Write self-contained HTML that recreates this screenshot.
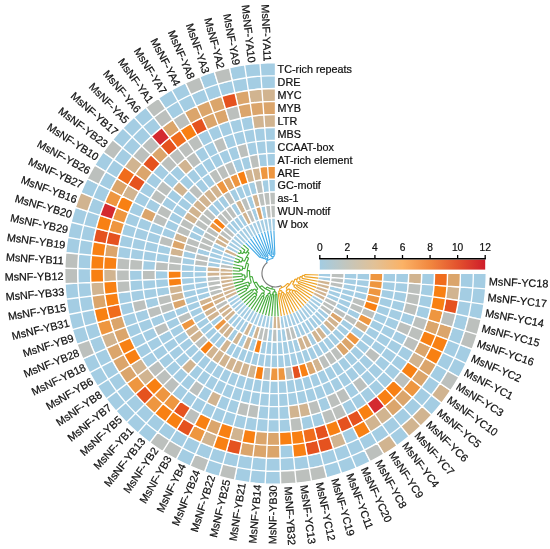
<!DOCTYPE html><html><head><meta charset="utf-8"><style>html,body{margin:0;padding:0;background:#fff;}svg{display:block}</style></head><body>
<svg width="550" height="549" viewBox="0 0 550 549">
<rect width="550" height="549" fill="#fff"/>
<g stroke="#fff" stroke-width="1.35" stroke-linejoin="miter">
<path fill="#a4cde3" d="M275.50 62.65A210.75 210.75 0 0 0 260.00 63.22L260.95 76.11A197.82 197.82 0 0 1 275.50 75.58ZM275.50 75.58A197.82 197.82 0 0 0 260.95 76.11L261.90 89.00A184.90 184.90 0 0 1 275.50 88.50ZM275.50 127.28A146.12 146.12 0 0 0 264.75 127.68L265.70 140.57A133.19 133.19 0 0 1 275.50 140.21ZM275.50 140.21A133.19 133.19 0 0 0 265.70 140.57L266.65 153.46A120.26 120.26 0 0 1 275.50 153.14ZM275.50 153.14A120.26 120.26 0 0 0 266.65 153.46L267.60 166.36A107.33 107.33 0 0 1 275.50 166.07ZM275.50 178.99A94.41 94.41 0 0 0 268.55 179.25L269.51 192.14A81.48 81.48 0 0 1 275.50 191.92ZM275.50 217.77A55.63 55.63 0 0 0 271.41 217.92L272.36 230.82A42.70 42.70 0 0 1 275.50 230.70ZM260.00 63.22A210.75 210.75 0 0 0 244.58 64.93L246.47 77.72A197.82 197.82 0 0 1 260.95 76.11ZM260.95 76.11A197.82 197.82 0 0 0 246.47 77.72L248.37 90.51A184.90 184.90 0 0 1 261.90 89.00ZM264.75 127.68A146.12 146.12 0 0 0 254.06 128.87L255.96 141.65A133.19 133.19 0 0 1 265.70 140.57ZM265.70 140.57A133.19 133.19 0 0 0 255.96 141.65L257.85 154.44A120.26 120.26 0 0 1 266.65 153.46ZM266.65 153.46A120.26 120.26 0 0 0 257.85 154.44L259.75 167.23A107.33 107.33 0 0 1 267.60 166.36ZM268.55 179.25A94.41 94.41 0 0 0 261.65 180.01L263.54 192.80A81.48 81.48 0 0 1 269.51 192.14ZM271.41 217.92A55.63 55.63 0 0 0 267.34 218.38L269.23 231.16A42.70 42.70 0 0 1 272.36 230.82ZM244.58 64.93A210.75 210.75 0 0 0 229.32 67.77L232.16 80.38A197.82 197.82 0 0 1 246.47 77.72ZM246.47 77.72A197.82 197.82 0 0 0 232.16 80.38L234.99 93.00A184.90 184.90 0 0 1 248.37 90.51ZM252.16 116.08A159.04 159.04 0 0 0 240.65 118.22L243.49 130.83A146.12 146.12 0 0 1 254.06 128.87ZM254.06 128.87A146.12 146.12 0 0 0 243.49 130.83L246.32 143.45A133.19 133.19 0 0 1 255.96 141.65ZM255.96 141.65A133.19 133.19 0 0 0 246.32 143.45L249.15 156.06A120.26 120.26 0 0 1 257.85 154.44ZM265.44 205.59A68.55 68.55 0 0 0 260.48 206.51L263.31 219.12A55.63 55.63 0 0 1 267.34 218.38ZM267.34 218.38A55.63 55.63 0 0 0 263.31 219.12L266.14 231.74A42.70 42.70 0 0 1 269.23 231.16ZM232.16 80.38A197.82 197.82 0 0 0 218.07 84.10L221.83 96.47A184.90 184.90 0 0 1 234.99 93.00ZM240.65 118.22A159.04 159.04 0 0 0 229.33 121.21L233.08 133.58A146.12 146.12 0 0 1 243.49 130.83ZM243.49 130.83A146.12 146.12 0 0 0 233.08 133.58L236.84 145.95A133.19 133.19 0 0 1 246.32 143.45ZM249.15 156.06A120.26 120.26 0 0 0 240.59 158.32L244.34 170.69A107.33 107.33 0 0 1 251.98 168.67ZM254.82 181.29A94.41 94.41 0 0 0 248.09 183.06L251.85 195.43A81.48 81.48 0 0 1 257.65 193.90ZM263.31 219.12A55.63 55.63 0 0 0 259.35 220.17L263.10 232.54A42.70 42.70 0 0 1 266.14 231.74ZM214.32 71.72A210.75 210.75 0 0 0 199.65 76.77L204.30 88.83A197.82 197.82 0 0 1 218.07 84.10ZM218.07 84.10A197.82 197.82 0 0 0 204.30 88.83L208.96 100.89A184.90 184.90 0 0 1 221.83 96.47ZM229.33 121.21A159.04 159.04 0 0 0 218.26 125.01L222.91 137.08A146.12 146.12 0 0 1 233.08 133.58ZM233.08 133.58A146.12 146.12 0 0 0 222.91 137.08L227.57 149.14A133.19 133.19 0 0 1 236.84 145.95ZM236.84 145.95A133.19 133.19 0 0 0 227.57 149.14L232.22 161.20A120.26 120.26 0 0 1 240.59 158.32ZM240.59 158.32A120.26 120.26 0 0 0 232.22 161.20L236.87 173.26A107.33 107.33 0 0 1 244.34 170.69ZM248.09 183.06A94.41 94.41 0 0 0 241.52 185.32L246.18 197.38A81.48 81.48 0 0 1 251.85 195.43ZM251.85 195.43A81.48 81.48 0 0 0 246.18 197.38L250.83 209.44A68.55 68.55 0 0 1 255.60 207.80ZM255.60 207.80A68.55 68.55 0 0 0 250.83 209.44L255.48 221.50A55.63 55.63 0 0 1 259.35 220.17ZM259.35 220.17A55.63 55.63 0 0 0 255.48 221.50L260.13 233.56A42.70 42.70 0 0 1 263.10 232.54ZM204.30 88.83A197.82 197.82 0 0 0 190.92 94.57L196.45 106.26A184.90 184.90 0 0 1 208.96 100.89ZM218.26 125.01A159.04 159.04 0 0 0 207.50 129.63L213.03 141.31A146.12 146.12 0 0 1 222.91 137.08ZM227.57 149.14A133.19 133.19 0 0 0 218.55 153.00L224.08 164.68A120.26 120.26 0 0 1 232.22 161.20ZM241.52 185.32A94.41 94.41 0 0 0 235.14 188.06L240.66 199.74A81.48 81.48 0 0 1 246.18 197.38ZM255.48 221.50A55.63 55.63 0 0 0 251.72 223.11L257.24 234.80A42.70 42.70 0 0 1 260.13 233.56ZM185.39 82.88A210.75 210.75 0 0 0 171.62 90.03L177.99 101.28A197.82 197.82 0 0 1 190.92 94.57ZM190.92 94.57A197.82 197.82 0 0 0 177.99 101.28L184.37 112.52A184.90 184.90 0 0 1 196.45 106.26ZM207.50 129.63A159.04 159.04 0 0 0 197.11 135.02L203.48 146.27A146.12 146.12 0 0 1 213.03 141.31ZM213.03 141.31A146.12 146.12 0 0 0 203.48 146.27L209.85 157.51A133.19 133.19 0 0 1 218.55 153.00ZM218.55 153.00A133.19 133.19 0 0 0 209.85 157.51L216.22 168.76A120.26 120.26 0 0 1 224.08 164.68ZM235.14 188.06A94.41 94.41 0 0 0 228.97 191.26L235.34 202.50A81.48 81.48 0 0 1 240.66 199.74ZM251.72 223.11A55.63 55.63 0 0 0 248.08 225.00L254.45 236.25A42.70 42.70 0 0 1 257.24 234.80ZM171.62 90.03A210.75 210.75 0 0 0 158.41 98.17L165.60 108.92A197.82 197.82 0 0 1 177.99 101.28ZM177.99 101.28A197.82 197.82 0 0 0 165.60 108.92L172.78 119.66A184.90 184.90 0 0 1 184.37 112.52ZM203.48 146.27A146.12 146.12 0 0 0 194.32 151.91L201.50 162.66A133.19 133.19 0 0 1 209.85 157.51ZM209.85 157.51A133.19 133.19 0 0 0 201.50 162.66L208.69 173.41A120.26 120.26 0 0 1 216.22 168.76ZM235.34 202.50A81.48 81.48 0 0 0 230.23 205.65L237.41 216.40A68.55 68.55 0 0 1 241.71 213.75ZM241.71 213.75A68.55 68.55 0 0 0 237.41 216.40L244.60 227.15A55.63 55.63 0 0 1 248.08 225.00ZM248.08 225.00A55.63 55.63 0 0 0 244.60 227.15L251.78 237.90A42.70 42.70 0 0 1 254.45 236.25ZM201.50 162.66A133.19 133.19 0 0 0 193.56 168.40L201.51 178.59A120.26 120.26 0 0 1 208.69 173.41ZM208.69 173.41A120.26 120.26 0 0 0 201.51 178.59L209.46 188.78A107.33 107.33 0 0 1 215.87 184.15ZM223.05 194.90A94.41 94.41 0 0 0 217.42 198.97L225.37 209.16A81.48 81.48 0 0 1 230.23 205.65ZM237.41 216.40A68.55 68.55 0 0 0 233.32 219.36L241.28 229.55A55.63 55.63 0 0 1 244.60 227.15ZM244.60 227.15A55.63 55.63 0 0 0 241.28 229.55L249.23 239.74A42.70 42.70 0 0 1 251.78 237.90ZM145.84 107.26A210.75 210.75 0 0 0 133.97 117.24L142.65 126.82A197.82 197.82 0 0 1 153.79 117.45ZM153.79 117.45A197.82 197.82 0 0 0 142.65 126.82L151.33 136.40A184.90 184.90 0 0 1 161.75 127.64ZM193.56 168.40A133.19 133.19 0 0 0 186.06 174.71L194.74 184.29A120.26 120.26 0 0 1 201.51 178.59ZM201.51 178.59A120.26 120.26 0 0 0 194.74 184.29L203.42 193.87A107.33 107.33 0 0 1 209.46 188.78ZM217.42 198.97A94.41 94.41 0 0 0 212.10 203.45L220.78 213.03A81.48 81.48 0 0 1 225.37 209.16ZM233.32 219.36A68.55 68.55 0 0 0 229.46 222.60L238.14 232.18A55.63 55.63 0 0 1 241.28 229.55ZM241.28 229.55A55.63 55.63 0 0 0 238.14 232.18L246.82 241.76A42.70 42.70 0 0 1 249.23 239.74ZM133.97 117.24A210.75 210.75 0 0 0 122.86 128.08L132.23 136.99A197.82 197.82 0 0 1 142.65 126.82ZM142.65 126.82A197.82 197.82 0 0 0 132.23 136.99L141.59 145.91A184.90 184.90 0 0 1 151.33 136.40ZM177.37 165.14A146.12 146.12 0 0 0 169.68 172.65L179.04 181.56A133.19 133.19 0 0 1 186.06 174.71ZM186.06 174.71A133.19 133.19 0 0 0 179.04 181.56L188.40 190.47A120.26 120.26 0 0 1 194.74 184.29ZM212.10 203.45A94.41 94.41 0 0 0 207.13 208.30L216.49 217.22A81.48 81.48 0 0 1 220.78 213.03ZM229.46 222.60A68.55 68.55 0 0 0 225.85 226.13L235.21 235.04A55.63 55.63 0 0 1 238.14 232.18ZM238.14 232.18A55.63 55.63 0 0 0 235.21 235.04L244.57 243.96A42.70 42.70 0 0 1 246.82 241.76ZM122.86 128.08A210.75 210.75 0 0 0 112.59 139.70L122.58 147.90A197.82 197.82 0 0 1 132.23 136.99ZM132.23 136.99A197.82 197.82 0 0 0 122.58 147.90L132.57 156.10A184.90 184.90 0 0 1 141.59 145.91ZM160.31 163.73A159.04 159.04 0 0 0 152.56 172.50L162.55 180.71A146.12 146.12 0 0 1 169.68 172.65ZM169.68 172.65A146.12 146.12 0 0 0 162.55 180.71L172.54 188.91A133.19 133.19 0 0 1 179.04 181.56ZM188.40 190.47A120.26 120.26 0 0 0 182.54 197.11L192.53 205.31A107.33 107.33 0 0 1 197.76 199.39ZM235.21 235.04A55.63 55.63 0 0 0 232.50 238.11L242.49 246.31A42.70 42.70 0 0 1 244.57 243.96ZM122.58 147.90A197.82 197.82 0 0 0 113.76 159.49L124.33 166.94A184.90 184.90 0 0 1 132.57 156.10ZM152.56 172.50A159.04 159.04 0 0 0 145.47 181.82L156.04 189.27A146.12 146.12 0 0 1 162.55 180.71ZM172.54 188.91A133.19 133.19 0 0 0 166.61 196.71L177.18 204.15A120.26 120.26 0 0 1 182.54 197.11ZM182.54 197.11A120.26 120.26 0 0 0 177.18 204.15L187.74 211.60A107.33 107.33 0 0 1 192.53 205.31ZM232.50 238.11A55.63 55.63 0 0 0 230.02 241.37L240.59 248.81A42.70 42.70 0 0 1 242.49 246.31ZM103.19 152.05A210.75 210.75 0 0 0 94.73 165.05L105.82 171.70A197.82 197.82 0 0 1 113.76 159.49ZM113.76 159.49A197.82 197.82 0 0 0 105.82 171.70L116.91 178.34A184.90 184.90 0 0 1 124.33 166.94ZM145.47 181.82A159.04 159.04 0 0 0 139.08 191.64L150.17 198.28A146.12 146.12 0 0 1 156.04 189.27ZM166.61 196.71A133.19 133.19 0 0 0 161.26 204.93L172.35 211.57A120.26 120.26 0 0 1 177.18 204.15ZM177.18 204.15A120.26 120.26 0 0 0 172.35 211.57L183.44 218.22A107.33 107.33 0 0 1 187.74 211.60ZM230.02 241.37A55.63 55.63 0 0 0 227.79 244.80L238.87 251.45A42.70 42.70 0 0 1 240.59 248.81ZM105.82 171.70A197.82 197.82 0 0 0 98.80 184.46L110.35 190.27A184.90 184.90 0 0 1 116.91 178.34ZM139.08 191.64A159.04 159.04 0 0 0 133.44 201.89L144.99 207.70A146.12 146.12 0 0 1 150.17 198.28ZM150.17 198.28A146.12 146.12 0 0 0 144.99 207.70L156.53 213.52A133.19 133.19 0 0 1 161.26 204.93ZM172.35 211.57A120.26 120.26 0 0 0 168.08 219.33L179.63 225.14A107.33 107.33 0 0 1 183.44 218.22ZM194.52 224.86A94.41 94.41 0 0 0 191.17 230.95L202.72 236.77A81.48 81.48 0 0 1 205.61 231.51ZM227.79 244.80A55.63 55.63 0 0 0 225.81 248.39L237.36 254.20A42.70 42.70 0 0 1 238.87 251.45ZM87.25 178.64A210.75 210.75 0 0 0 80.79 192.75L92.74 197.70A197.82 197.82 0 0 1 98.80 184.46ZM98.80 184.46A197.82 197.82 0 0 0 92.74 197.70L104.68 202.64A184.90 184.90 0 0 1 110.35 190.27ZM133.44 201.89A159.04 159.04 0 0 0 128.56 212.54L140.51 217.48A146.12 146.12 0 0 1 144.99 207.70ZM168.08 219.33A120.26 120.26 0 0 0 164.39 227.38L176.34 232.32A107.33 107.33 0 0 1 179.63 225.14ZM191.17 230.95A94.41 94.41 0 0 0 188.28 237.27L200.22 242.22A81.48 81.48 0 0 1 202.72 236.77ZM214.27 242.58A68.55 68.55 0 0 0 212.16 247.17L224.11 252.11A55.63 55.63 0 0 1 225.81 248.39ZM92.74 197.70A197.82 197.82 0 0 0 87.66 211.35L99.94 215.40A184.90 184.90 0 0 1 104.68 202.64ZM128.56 212.54A159.04 159.04 0 0 0 124.48 223.51L136.76 227.57A146.12 146.12 0 0 1 140.51 217.48ZM140.51 217.48A146.12 146.12 0 0 0 136.76 227.57L149.03 231.62A133.19 133.19 0 0 1 152.45 222.43ZM152.45 222.43A133.19 133.19 0 0 0 149.03 231.62L161.31 235.68A120.26 120.26 0 0 1 164.39 227.38ZM164.39 227.38A120.26 120.26 0 0 0 161.31 235.68L173.58 239.73A107.33 107.33 0 0 1 176.34 232.32ZM212.16 247.17A68.55 68.55 0 0 0 210.41 251.90L222.68 255.95A55.63 55.63 0 0 1 224.11 252.11ZM224.11 252.11A55.63 55.63 0 0 0 222.68 255.95L234.96 260.01A42.70 42.70 0 0 1 236.05 257.06ZM75.39 207.29A210.75 210.75 0 0 0 71.07 222.19L83.61 225.33A197.82 197.82 0 0 1 87.66 211.35ZM87.66 211.35A197.82 197.82 0 0 0 83.61 225.33L96.14 228.47A184.90 184.90 0 0 1 99.94 215.40ZM124.48 223.51A159.04 159.04 0 0 0 121.22 234.76L133.76 237.90A146.12 146.12 0 0 1 136.76 227.57ZM136.76 227.57A146.12 146.12 0 0 0 133.76 237.90L146.30 241.04A133.19 133.19 0 0 1 149.03 231.62ZM149.03 231.62A133.19 133.19 0 0 0 146.30 241.04L158.84 244.18A120.26 120.26 0 0 1 161.31 235.68ZM198.13 247.84A81.48 81.48 0 0 0 196.46 253.60L209.00 256.74A68.55 68.55 0 0 1 210.41 251.90ZM210.41 251.90A68.55 68.55 0 0 0 209.00 256.74L221.54 259.88A55.63 55.63 0 0 1 222.68 255.95ZM222.68 255.95A55.63 55.63 0 0 0 221.54 259.88L234.08 263.02A42.70 42.70 0 0 1 234.96 260.01ZM71.07 222.19A210.75 210.75 0 0 0 67.85 237.37L80.59 239.58A197.82 197.82 0 0 1 83.61 225.33ZM83.61 225.33A197.82 197.82 0 0 0 80.59 239.58L93.33 241.79A184.90 184.90 0 0 1 96.14 228.47ZM121.22 234.76A159.04 159.04 0 0 0 118.80 246.21L131.54 248.42A146.12 146.12 0 0 1 133.76 237.90ZM133.76 237.90A146.12 146.12 0 0 0 131.54 248.42L144.27 250.63A133.19 133.19 0 0 1 146.30 241.04ZM146.30 241.04A133.19 133.19 0 0 0 144.27 250.63L157.01 252.84A120.26 120.26 0 0 1 158.84 244.18ZM158.84 244.18A120.26 120.26 0 0 0 157.01 252.84L169.75 255.05A107.33 107.33 0 0 1 171.38 247.32ZM183.92 250.46A94.41 94.41 0 0 0 182.48 257.26L195.22 259.47A81.48 81.48 0 0 1 196.46 253.60ZM209.00 256.74A68.55 68.55 0 0 0 207.96 261.68L220.69 263.89A55.63 55.63 0 0 1 221.54 259.88ZM221.54 259.88A55.63 55.63 0 0 0 220.69 263.89L233.43 266.10A42.70 42.70 0 0 1 234.08 263.02ZM67.85 237.37A210.75 210.75 0 0 0 65.76 252.74L78.63 254.01A197.82 197.82 0 0 1 80.59 239.58ZM80.59 239.58A197.82 197.82 0 0 0 78.63 254.01L91.49 255.28A184.90 184.90 0 0 1 93.33 241.79ZM118.80 246.21A159.04 159.04 0 0 0 117.22 257.81L130.09 259.08A146.12 146.12 0 0 1 131.54 248.42ZM131.54 248.42A146.12 146.12 0 0 0 130.09 259.08L142.95 260.35A133.19 133.19 0 0 1 144.27 250.63ZM144.27 250.63A133.19 133.19 0 0 0 142.95 260.35L155.82 261.61A120.26 120.26 0 0 1 157.01 252.84ZM157.01 252.84A120.26 120.26 0 0 0 155.82 261.61L168.68 262.88A107.33 107.33 0 0 1 169.75 255.05ZM182.48 257.26A94.41 94.41 0 0 0 181.55 264.15L194.41 265.41A81.48 81.48 0 0 1 195.22 259.47ZM207.96 261.68A68.55 68.55 0 0 0 207.28 266.68L220.14 267.95A55.63 55.63 0 0 1 220.69 263.89ZM78.63 254.01A197.82 197.82 0 0 0 77.74 268.55L90.66 268.86A184.90 184.90 0 0 1 91.49 255.28ZM142.95 260.35A133.19 133.19 0 0 0 142.35 270.13L155.27 270.45A120.26 120.26 0 0 1 155.82 261.61ZM181.55 264.15A94.41 94.41 0 0 0 181.12 271.08L194.04 271.40A81.48 81.48 0 0 1 194.41 265.41ZM194.41 265.41A81.48 81.48 0 0 0 194.04 271.40L206.97 271.72A68.55 68.55 0 0 1 207.28 266.68ZM77.74 268.55A197.82 197.82 0 0 0 77.92 283.11L90.83 282.47A184.90 184.90 0 0 1 90.66 268.86ZM129.43 269.81A146.12 146.12 0 0 0 129.56 280.57L142.47 279.94A133.19 133.19 0 0 1 142.35 270.13ZM155.27 270.45A120.26 120.26 0 0 0 155.38 279.30L168.29 278.67A107.33 107.33 0 0 1 168.20 270.77ZM181.12 271.08A94.41 94.41 0 0 0 181.21 278.03L194.12 277.40A81.48 81.48 0 0 1 194.04 271.40ZM194.04 271.40A81.48 81.48 0 0 0 194.12 277.40L207.03 276.76A68.55 68.55 0 0 1 206.97 271.72ZM65.00 283.74A210.75 210.75 0 0 0 66.33 299.20L79.16 297.62A197.82 197.82 0 0 1 77.92 283.11ZM77.92 283.11A197.82 197.82 0 0 0 79.16 297.62L91.99 296.03A184.90 184.90 0 0 1 90.83 282.47ZM129.56 280.57A146.12 146.12 0 0 0 130.48 291.29L143.31 289.70A133.19 133.19 0 0 1 142.47 279.94ZM142.47 279.94A133.19 133.19 0 0 0 143.31 289.70L156.14 288.12A120.26 120.26 0 0 1 155.38 279.30ZM155.38 279.30A120.26 120.26 0 0 0 156.14 288.12L168.97 286.54A107.33 107.33 0 0 1 168.29 278.67ZM181.21 278.03A94.41 94.41 0 0 0 181.80 284.96L194.63 283.37A81.48 81.48 0 0 1 194.12 277.40ZM194.12 277.40A81.48 81.48 0 0 0 194.63 283.37L207.46 281.79A68.55 68.55 0 0 1 207.03 276.76ZM66.33 299.20A210.75 210.75 0 0 0 68.80 314.52L81.48 311.99A197.82 197.82 0 0 1 79.16 297.62ZM79.16 297.62A197.82 197.82 0 0 0 81.48 311.99L94.16 309.47A184.90 184.90 0 0 1 91.99 296.03ZM117.65 292.87A159.04 159.04 0 0 0 119.51 304.43L132.19 301.91A146.12 146.12 0 0 1 130.48 291.29ZM130.48 291.29A146.12 146.12 0 0 0 132.19 301.91L144.87 299.38A133.19 133.19 0 0 1 143.31 289.70ZM143.31 289.70A133.19 133.19 0 0 0 144.87 299.38L157.55 296.86A120.26 120.26 0 0 1 156.14 288.12ZM156.14 288.12A120.26 120.26 0 0 0 157.55 296.86L170.23 294.34A107.33 107.33 0 0 1 168.97 286.54ZM181.80 284.96A94.41 94.41 0 0 0 182.91 291.82L195.58 289.30A81.48 81.48 0 0 1 194.63 283.37ZM194.63 283.37A81.48 81.48 0 0 0 195.58 289.30L208.26 286.77A68.55 68.55 0 0 1 207.46 281.79ZM68.80 314.52A210.75 210.75 0 0 0 72.38 329.61L84.84 326.16A197.82 197.82 0 0 1 81.48 311.99ZM81.48 311.99A197.82 197.82 0 0 0 84.84 326.16L97.30 322.71A184.90 184.90 0 0 1 94.16 309.47ZM119.51 304.43A159.04 159.04 0 0 0 122.22 315.82L134.68 312.37A146.12 146.12 0 0 1 132.19 301.91ZM144.87 299.38A133.19 133.19 0 0 0 147.14 308.92L159.59 305.48A120.26 120.26 0 0 1 157.55 296.86ZM182.91 291.82A94.41 94.41 0 0 0 184.51 298.58L196.97 295.13A81.48 81.48 0 0 1 195.58 289.30ZM195.58 289.30A81.48 81.48 0 0 0 196.97 295.13L209.43 291.68A68.55 68.55 0 0 1 208.26 286.77ZM72.38 329.61A210.75 210.75 0 0 0 77.07 344.40L89.24 340.04A197.82 197.82 0 0 1 84.84 326.16ZM84.84 326.16A197.82 197.82 0 0 0 89.24 340.04L101.41 335.69A184.90 184.90 0 0 1 97.30 322.71ZM122.22 315.82A159.04 159.04 0 0 0 125.75 326.98L137.93 322.62A146.12 146.12 0 0 1 134.68 312.37ZM134.68 312.37A146.12 146.12 0 0 0 137.93 322.62L150.10 318.27A133.19 133.19 0 0 1 147.14 308.92ZM184.51 298.58A94.41 94.41 0 0 0 186.61 305.20L198.78 300.85A81.48 81.48 0 0 1 196.97 295.13ZM196.97 295.13A81.48 81.48 0 0 0 198.78 300.85L210.95 296.50A68.55 68.55 0 0 1 209.43 291.68ZM89.24 340.04A197.82 197.82 0 0 0 94.65 353.57L106.47 348.33A184.90 184.90 0 0 1 101.41 335.69ZM125.75 326.98A159.04 159.04 0 0 0 130.10 337.85L141.92 332.61A146.12 146.12 0 0 1 137.93 322.62ZM137.93 322.62A146.12 146.12 0 0 0 141.92 332.61L153.74 327.37A133.19 133.19 0 0 1 150.10 318.27ZM150.10 318.27A133.19 133.19 0 0 0 153.74 327.37L165.56 322.13A120.26 120.26 0 0 1 162.27 313.91ZM162.27 313.91A120.26 120.26 0 0 0 165.56 322.13L177.37 316.90A107.33 107.33 0 0 1 174.44 309.56ZM174.44 309.56A107.33 107.33 0 0 0 177.37 316.90L189.19 311.66A94.41 94.41 0 0 1 186.61 305.20ZM186.61 305.20A94.41 94.41 0 0 0 189.19 311.66L201.01 306.42A81.48 81.48 0 0 1 198.78 300.85ZM82.83 358.80A210.75 210.75 0 0 0 89.64 372.75L101.04 366.65A197.82 197.82 0 0 1 94.65 353.57ZM94.65 353.57A197.82 197.82 0 0 0 101.04 366.65L112.44 360.56A184.90 184.90 0 0 1 106.47 348.33ZM130.10 337.85A159.04 159.04 0 0 0 135.24 348.37L146.64 342.28A146.12 146.12 0 0 1 141.92 332.61ZM141.92 332.61A146.12 146.12 0 0 0 146.64 342.28L158.04 336.18A133.19 133.19 0 0 1 153.74 327.37ZM165.56 322.13A120.26 120.26 0 0 0 169.44 330.09L180.84 324.00A107.33 107.33 0 0 1 177.37 316.90ZM189.19 311.66A94.41 94.41 0 0 0 192.24 317.90L203.64 311.81A81.48 81.48 0 0 1 201.01 306.42ZM89.64 372.75A210.75 210.75 0 0 0 97.45 386.15L108.37 379.23A197.82 197.82 0 0 1 101.04 366.65ZM101.04 366.65A197.82 197.82 0 0 0 108.37 379.23L119.29 372.32A184.90 184.90 0 0 1 112.44 360.56ZM135.24 348.37A159.04 159.04 0 0 0 141.13 358.49L152.05 351.57A146.12 146.12 0 0 1 146.64 342.28ZM146.64 342.28A146.12 146.12 0 0 0 152.05 351.57L162.98 344.66A133.19 133.19 0 0 1 158.04 336.18ZM158.04 336.18A133.19 133.19 0 0 0 162.98 344.66L173.90 337.74A120.26 120.26 0 0 1 169.44 330.09ZM169.44 330.09A120.26 120.26 0 0 0 173.90 337.74L184.82 330.82A107.33 107.33 0 0 1 180.84 324.00ZM192.24 317.90A94.41 94.41 0 0 0 195.74 323.91L206.66 316.99A81.48 81.48 0 0 1 203.64 311.81ZM226.44 299.62A55.63 55.63 0 0 0 228.50 303.16L239.42 296.24A42.70 42.70 0 0 1 237.84 293.53ZM97.45 386.15A210.75 210.75 0 0 0 106.22 398.94L116.61 391.24A197.82 197.82 0 0 1 108.37 379.23ZM108.37 379.23A197.82 197.82 0 0 0 116.61 391.24L126.99 383.54A184.90 184.90 0 0 1 119.29 372.32ZM141.13 358.49A159.04 159.04 0 0 0 147.76 368.14L158.14 360.44A146.12 146.12 0 0 1 152.05 351.57ZM152.05 351.57A146.12 146.12 0 0 0 158.14 360.44L168.52 352.74A133.19 133.19 0 0 1 162.98 344.66ZM162.98 344.66A133.19 133.19 0 0 0 168.52 352.74L178.91 345.04A120.26 120.26 0 0 1 173.90 337.74ZM173.90 337.74A120.26 120.26 0 0 0 178.91 345.04L189.29 337.34A107.33 107.33 0 0 1 184.82 330.82ZM195.74 323.91A94.41 94.41 0 0 0 199.67 329.64L210.05 321.94A81.48 81.48 0 0 1 206.66 316.99ZM228.50 303.16A55.63 55.63 0 0 0 230.82 306.54L241.20 298.84A42.70 42.70 0 0 1 239.42 296.24ZM106.22 398.94A210.75 210.75 0 0 0 115.92 411.06L125.71 402.61A197.82 197.82 0 0 1 116.61 391.24ZM116.61 391.24A197.82 197.82 0 0 0 125.71 402.61L135.49 394.17A184.90 184.90 0 0 1 126.99 383.54ZM158.14 360.44A146.12 146.12 0 0 0 164.86 368.84L174.65 360.40A133.19 133.19 0 0 1 168.52 352.74ZM168.52 352.74A133.19 133.19 0 0 0 174.65 360.40L184.44 351.95A120.26 120.26 0 0 1 178.91 345.04ZM178.91 345.04A120.26 120.26 0 0 0 184.44 351.95L194.23 343.51A107.33 107.33 0 0 1 189.29 337.34ZM199.67 329.64A94.41 94.41 0 0 0 204.01 335.06L213.80 326.62A81.48 81.48 0 0 1 210.05 321.94ZM210.05 321.94A81.48 81.48 0 0 0 213.80 326.62L223.59 318.18A68.55 68.55 0 0 1 220.44 314.24ZM230.82 306.54A55.63 55.63 0 0 0 233.38 309.73L243.17 301.29A42.70 42.70 0 0 1 241.20 298.84ZM115.92 411.06A210.75 210.75 0 0 0 126.48 422.42L135.62 413.28A197.82 197.82 0 0 1 125.71 402.61ZM125.71 402.61A197.82 197.82 0 0 0 135.62 413.28L144.76 404.14A184.90 184.90 0 0 1 135.49 394.17ZM164.86 368.84A146.12 146.12 0 0 0 172.18 376.72L181.32 367.58A133.19 133.19 0 0 1 174.65 360.40ZM174.65 360.40A133.19 133.19 0 0 0 181.32 367.58L190.46 358.44A120.26 120.26 0 0 1 184.44 351.95ZM184.44 351.95A120.26 120.26 0 0 0 190.46 358.44L199.60 349.30A107.33 107.33 0 0 1 194.23 343.51ZM204.01 335.06A94.41 94.41 0 0 0 208.74 340.16L217.88 331.02A81.48 81.48 0 0 1 213.80 326.62ZM233.38 309.73A55.63 55.63 0 0 0 236.17 312.73L245.31 303.59A42.70 42.70 0 0 1 243.17 301.29ZM126.48 422.42A210.75 210.75 0 0 0 137.84 432.98L146.29 423.19A197.82 197.82 0 0 1 135.62 413.28ZM135.62 413.28A197.82 197.82 0 0 0 146.29 423.19L154.73 413.41A184.90 184.90 0 0 1 144.76 404.14ZM172.18 376.72A146.12 146.12 0 0 0 180.06 384.04L188.50 374.25A133.19 133.19 0 0 1 181.32 367.58ZM190.46 358.44A120.26 120.26 0 0 0 196.95 364.46L205.39 354.67A107.33 107.33 0 0 1 199.60 349.30ZM208.74 340.16A94.41 94.41 0 0 0 213.84 344.89L222.28 335.10A81.48 81.48 0 0 1 217.88 331.02ZM227.03 321.87A68.55 68.55 0 0 0 230.72 325.31L239.17 315.52A55.63 55.63 0 0 1 236.17 312.73ZM236.17 312.73A55.63 55.63 0 0 0 239.17 315.52L247.61 305.73A42.70 42.70 0 0 1 245.31 303.59ZM137.84 432.98A210.75 210.75 0 0 0 149.96 442.68L157.66 432.29A197.82 197.82 0 0 1 146.29 423.19ZM146.29 423.19A197.82 197.82 0 0 0 157.66 432.29L165.36 421.91A184.90 184.90 0 0 1 154.73 413.41ZM171.62 393.83A159.04 159.04 0 0 0 180.76 401.14L188.46 390.76A146.12 146.12 0 0 1 180.06 384.04ZM180.06 384.04A146.12 146.12 0 0 0 188.46 390.76L196.16 380.38A133.19 133.19 0 0 1 188.50 374.25ZM188.50 374.25A133.19 133.19 0 0 0 196.16 380.38L203.86 369.99A120.26 120.26 0 0 1 196.95 364.46ZM196.95 364.46A120.26 120.26 0 0 0 203.86 369.99L211.56 359.61A107.33 107.33 0 0 1 205.39 354.67ZM213.84 344.89A94.41 94.41 0 0 0 219.26 349.23L226.96 338.85A81.48 81.48 0 0 1 222.28 335.10ZM230.72 325.31A68.55 68.55 0 0 0 234.66 328.46L242.36 318.08A55.63 55.63 0 0 1 239.17 315.52ZM239.17 315.52A55.63 55.63 0 0 0 242.36 318.08L250.06 307.70A42.70 42.70 0 0 1 247.61 305.73ZM157.66 432.29A197.82 197.82 0 0 0 169.67 440.53L176.58 429.61A184.90 184.90 0 0 1 165.36 421.91ZM180.76 401.14A159.04 159.04 0 0 0 190.41 407.77L197.33 396.85A146.12 146.12 0 0 1 188.46 390.76ZM196.16 380.38A133.19 133.19 0 0 0 204.24 385.92L211.16 375.00A120.26 120.26 0 0 1 203.86 369.99ZM203.86 369.99A120.26 120.26 0 0 0 211.16 375.00L218.08 364.08A107.33 107.33 0 0 1 211.56 359.61ZM226.96 338.85A81.48 81.48 0 0 0 231.91 342.24L238.82 331.32A68.55 68.55 0 0 1 234.66 328.46ZM234.66 328.46A68.55 68.55 0 0 0 238.82 331.32L245.74 320.40A55.63 55.63 0 0 1 242.36 318.08ZM242.36 318.08A55.63 55.63 0 0 0 245.74 320.40L252.66 309.48A42.70 42.70 0 0 1 250.06 307.70ZM169.67 440.53A197.82 197.82 0 0 0 182.25 447.86L188.34 436.46A184.90 184.90 0 0 1 176.58 429.61ZM190.41 407.77A159.04 159.04 0 0 0 200.53 413.66L206.62 402.26A146.12 146.12 0 0 1 197.33 396.85ZM197.33 396.85A146.12 146.12 0 0 0 206.62 402.26L212.72 390.86A133.19 133.19 0 0 1 204.24 385.92ZM204.24 385.92A133.19 133.19 0 0 0 212.72 390.86L218.81 379.46A120.26 120.26 0 0 1 211.16 375.00ZM211.16 375.00A120.26 120.26 0 0 0 218.81 379.46L224.90 368.06A107.33 107.33 0 0 1 218.08 364.08ZM224.99 353.16A94.41 94.41 0 0 0 231.00 356.66L237.09 345.26A81.48 81.48 0 0 1 231.91 342.24ZM238.82 331.32A68.55 68.55 0 0 0 243.18 333.86L249.28 322.46A55.63 55.63 0 0 1 245.74 320.40ZM245.74 320.40A55.63 55.63 0 0 0 249.28 322.46L255.37 311.06A42.70 42.70 0 0 1 252.66 309.48ZM176.15 459.26A210.75 210.75 0 0 0 190.10 466.07L195.33 454.25A197.82 197.82 0 0 1 182.25 447.86ZM182.25 447.86A197.82 197.82 0 0 0 195.33 454.25L200.57 442.43A184.90 184.90 0 0 1 188.34 436.46ZM200.53 413.66A159.04 159.04 0 0 0 211.05 418.80L216.29 406.98A146.12 146.12 0 0 1 206.62 402.26ZM212.72 390.86A133.19 133.19 0 0 0 221.53 395.16L226.77 383.34A120.26 120.26 0 0 1 218.81 379.46ZM218.81 379.46A120.26 120.26 0 0 0 226.77 383.34L232.00 371.53A107.33 107.33 0 0 1 224.90 368.06ZM231.00 356.66A94.41 94.41 0 0 0 237.24 359.71L242.48 347.89A81.48 81.48 0 0 1 237.09 345.26ZM237.09 345.26A81.48 81.48 0 0 0 242.48 347.89L247.72 336.07A68.55 68.55 0 0 1 243.18 333.86ZM249.28 322.46A55.63 55.63 0 0 0 252.96 324.25L258.20 312.44A42.70 42.70 0 0 1 255.37 311.06ZM195.33 454.25A197.82 197.82 0 0 0 208.86 459.66L213.21 447.49A184.90 184.90 0 0 1 200.57 442.43ZM211.05 418.80A159.04 159.04 0 0 0 221.92 423.15L226.28 410.97A146.12 146.12 0 0 1 216.29 406.98ZM216.29 406.98A146.12 146.12 0 0 0 226.28 410.97L230.63 398.80A133.19 133.19 0 0 1 221.53 395.16ZM221.53 395.16A133.19 133.19 0 0 0 230.63 398.80L234.99 386.63A120.26 120.26 0 0 1 226.77 383.34ZM226.77 383.34A120.26 120.26 0 0 0 234.99 386.63L239.34 374.46A107.33 107.33 0 0 1 232.00 371.53ZM237.24 359.71A94.41 94.41 0 0 0 243.70 362.29L248.05 350.12A81.48 81.48 0 0 1 242.48 347.89ZM247.72 336.07A68.55 68.55 0 0 0 252.40 337.95L256.76 325.78A55.63 55.63 0 0 1 252.96 324.25ZM252.96 324.25A55.63 55.63 0 0 0 256.76 325.78L261.11 313.60A42.70 42.70 0 0 1 258.20 312.44ZM204.50 471.83A210.75 210.75 0 0 0 219.29 476.52L222.74 464.06A197.82 197.82 0 0 1 208.86 459.66ZM208.86 459.66A197.82 197.82 0 0 0 222.74 464.06L226.19 451.60A184.90 184.90 0 0 1 213.21 447.49ZM221.92 423.15A159.04 159.04 0 0 0 233.08 426.68L236.53 414.22A146.12 146.12 0 0 1 226.28 410.97ZM226.28 410.97A146.12 146.12 0 0 0 236.53 414.22L239.98 401.76A133.19 133.19 0 0 1 230.63 398.80ZM230.63 398.80A133.19 133.19 0 0 0 239.98 401.76L243.42 389.31A120.26 120.26 0 0 1 234.99 386.63ZM234.99 386.63A120.26 120.26 0 0 0 243.42 389.31L246.87 376.85A107.33 107.33 0 0 1 239.34 374.46ZM243.70 362.29A94.41 94.41 0 0 0 250.32 364.39L253.77 351.93A81.48 81.48 0 0 1 248.05 350.12ZM248.05 350.12A81.48 81.48 0 0 0 253.77 351.93L257.22 339.47A68.55 68.55 0 0 1 252.40 337.95ZM256.76 325.78A55.63 55.63 0 0 0 260.66 327.01L264.11 314.55A42.70 42.70 0 0 1 261.11 313.60ZM222.74 464.06A197.82 197.82 0 0 0 236.91 467.42L239.43 454.74A184.90 184.90 0 0 1 226.19 451.60ZM233.08 426.68A159.04 159.04 0 0 0 244.47 429.39L246.99 416.71A146.12 146.12 0 0 1 236.53 414.22ZM239.98 401.76A133.19 133.19 0 0 0 249.52 404.03L252.04 391.35A120.26 120.26 0 0 1 243.42 389.31ZM243.42 389.31A120.26 120.26 0 0 0 252.04 391.35L254.56 378.67A107.33 107.33 0 0 1 246.87 376.85ZM250.32 364.39A94.41 94.41 0 0 0 257.08 365.99L259.60 353.32A81.48 81.48 0 0 1 253.77 351.93ZM260.66 327.01A55.63 55.63 0 0 0 264.65 327.96L267.17 315.28A42.70 42.70 0 0 1 264.11 314.55ZM234.38 480.10A210.75 210.75 0 0 0 249.70 482.57L251.28 469.74A197.82 197.82 0 0 1 236.91 467.42ZM236.91 467.42A197.82 197.82 0 0 0 251.28 469.74L252.87 456.91A184.90 184.90 0 0 1 239.43 454.74ZM244.47 429.39A159.04 159.04 0 0 0 256.03 431.25L257.61 418.42A146.12 146.12 0 0 1 246.99 416.71ZM249.52 404.03A133.19 133.19 0 0 0 259.20 405.59L260.78 392.76A120.26 120.26 0 0 1 252.04 391.35ZM252.04 391.35A120.26 120.26 0 0 0 260.78 392.76L262.36 379.93A107.33 107.33 0 0 1 254.56 378.67ZM257.08 365.99A94.41 94.41 0 0 0 263.94 367.10L265.53 354.27A81.48 81.48 0 0 1 259.60 353.32ZM259.60 353.32A81.48 81.48 0 0 0 265.53 354.27L267.11 341.44A68.55 68.55 0 0 1 262.13 340.64ZM264.65 327.96A55.63 55.63 0 0 0 268.69 328.61L270.27 315.78A42.70 42.70 0 0 1 267.17 315.28ZM249.70 482.57A210.75 210.75 0 0 0 265.16 483.90L265.79 470.98A197.82 197.82 0 0 1 251.28 469.74ZM251.28 469.74A197.82 197.82 0 0 0 265.79 470.98L266.43 458.07A184.90 184.90 0 0 1 252.87 456.91ZM256.03 431.25A159.04 159.04 0 0 0 267.70 432.25L268.33 419.34A146.12 146.12 0 0 1 257.61 418.42ZM257.61 418.42A146.12 146.12 0 0 0 268.33 419.34L268.96 406.43A133.19 133.19 0 0 1 259.20 405.59ZM259.20 405.59A133.19 133.19 0 0 0 268.96 406.43L269.60 393.52A120.26 120.26 0 0 1 260.78 392.76ZM260.78 392.76A120.26 120.26 0 0 0 269.60 393.52L270.23 380.61A107.33 107.33 0 0 1 262.36 379.93ZM263.94 367.10A94.41 94.41 0 0 0 270.87 367.69L271.50 354.78A81.48 81.48 0 0 1 265.53 354.27ZM265.53 354.27A81.48 81.48 0 0 0 271.50 354.78L272.14 341.87A68.55 68.55 0 0 1 267.11 341.44ZM267.11 341.44A68.55 68.55 0 0 0 272.14 341.87L272.77 328.96A55.63 55.63 0 0 1 268.69 328.61ZM268.69 328.61A55.63 55.63 0 0 0 272.77 328.96L273.40 316.05A42.70 42.70 0 0 1 270.27 315.78ZM265.16 483.90A210.75 210.75 0 0 0 280.67 484.09L280.35 471.16A197.82 197.82 0 0 1 265.79 470.98ZM265.79 470.98A197.82 197.82 0 0 0 280.35 471.16L280.04 458.24A184.90 184.90 0 0 1 266.43 458.07ZM267.70 432.25A159.04 159.04 0 0 0 279.40 432.39L279.09 419.47A146.12 146.12 0 0 1 268.33 419.34ZM268.33 419.34A146.12 146.12 0 0 0 279.09 419.47L278.77 406.55A133.19 133.19 0 0 1 268.96 406.43ZM268.96 406.43A133.19 133.19 0 0 0 278.77 406.55L278.45 393.63A120.26 120.26 0 0 1 269.60 393.52ZM269.60 393.52A120.26 120.26 0 0 0 278.45 393.63L278.13 380.70A107.33 107.33 0 0 1 270.23 380.61ZM270.87 367.69A94.41 94.41 0 0 0 277.82 367.78L277.50 354.86A81.48 81.48 0 0 1 271.50 354.78ZM271.50 354.78A81.48 81.48 0 0 0 277.50 354.86L277.18 341.93A68.55 68.55 0 0 1 272.14 341.87ZM280.35 471.16A197.82 197.82 0 0 0 294.89 470.27L293.62 457.41A184.90 184.90 0 0 1 280.04 458.24ZM280.04 458.24A184.90 184.90 0 0 0 293.62 457.41L292.36 444.54A171.97 171.97 0 0 1 279.72 445.32ZM279.40 432.39A159.04 159.04 0 0 0 291.09 431.68L289.82 418.81A146.12 146.12 0 0 1 279.09 419.47ZM279.09 419.47A146.12 146.12 0 0 0 289.82 418.81L288.55 405.95A133.19 133.19 0 0 1 278.77 406.55ZM278.77 406.55A133.19 133.19 0 0 0 288.55 405.95L287.29 393.08A120.26 120.26 0 0 1 278.45 393.63ZM278.45 393.63A120.26 120.26 0 0 0 287.29 393.08L286.02 380.22A107.33 107.33 0 0 1 278.13 380.70ZM277.82 367.78A94.41 94.41 0 0 0 284.75 367.35L283.49 354.49A81.48 81.48 0 0 1 277.50 354.86ZM277.50 354.86A81.48 81.48 0 0 0 283.49 354.49L282.22 341.62A68.55 68.55 0 0 1 277.18 341.93ZM277.18 341.93A68.55 68.55 0 0 0 282.22 341.62L280.95 328.76A55.63 55.63 0 0 1 276.87 329.01ZM294.89 470.27A197.82 197.82 0 0 0 309.32 468.31L307.11 455.57A184.90 184.90 0 0 1 293.62 457.41ZM288.55 405.95A133.19 133.19 0 0 0 298.27 404.63L296.06 391.89A120.26 120.26 0 0 1 287.29 393.08ZM287.29 393.08A120.26 120.26 0 0 0 296.06 391.89L293.85 379.15A107.33 107.33 0 0 1 286.02 380.22ZM284.75 367.35A94.41 94.41 0 0 0 291.64 366.42L289.43 353.68A81.48 81.48 0 0 1 283.49 354.49ZM283.49 354.49A81.48 81.48 0 0 0 289.43 353.68L287.22 340.94A68.55 68.55 0 0 1 282.22 341.62ZM282.22 341.62A68.55 68.55 0 0 0 287.22 340.94L285.01 328.21A55.63 55.63 0 0 1 280.95 328.76ZM280.95 328.76A55.63 55.63 0 0 0 285.01 328.21L282.80 315.47A42.70 42.70 0 0 1 279.69 315.89ZM309.32 468.31A197.82 197.82 0 0 0 323.57 465.29L320.43 452.76A184.90 184.90 0 0 1 307.11 455.57ZM302.69 430.10A159.04 159.04 0 0 0 314.14 427.68L311.00 415.14A146.12 146.12 0 0 1 300.48 417.36ZM298.27 404.63A133.19 133.19 0 0 0 307.86 402.60L304.72 390.06A120.26 120.26 0 0 1 296.06 391.89ZM296.06 391.89A120.26 120.26 0 0 0 304.72 390.06L301.58 377.52A107.33 107.33 0 0 1 293.85 379.15ZM291.64 366.42A94.41 94.41 0 0 0 298.44 364.98L295.30 352.44A81.48 81.48 0 0 1 289.43 353.68ZM289.43 353.68A81.48 81.48 0 0 0 295.30 352.44L292.16 339.90A68.55 68.55 0 0 1 287.22 340.94ZM285.01 328.21A55.63 55.63 0 0 0 289.02 327.36L285.88 314.82A42.70 42.70 0 0 1 282.80 315.47ZM326.71 477.83A210.75 210.75 0 0 0 341.61 473.51L337.55 461.24A197.82 197.82 0 0 1 323.57 465.29ZM323.57 465.29A197.82 197.82 0 0 0 337.55 461.24L333.50 448.96A184.90 184.90 0 0 1 320.43 452.76ZM314.14 427.68A159.04 159.04 0 0 0 325.39 424.42L321.33 412.14A146.12 146.12 0 0 1 311.00 415.14ZM307.86 402.60A133.19 133.19 0 0 0 317.28 399.87L313.22 387.59A120.26 120.26 0 0 1 304.72 390.06ZM304.72 390.06A120.26 120.26 0 0 0 313.22 387.59L309.17 375.32A107.33 107.33 0 0 1 301.58 377.52ZM298.44 364.98A94.41 94.41 0 0 0 305.11 363.04L301.06 350.77A81.48 81.48 0 0 1 295.30 352.44ZM295.30 352.44A81.48 81.48 0 0 0 301.06 350.77L297.00 338.49A68.55 68.55 0 0 1 292.16 339.90ZM289.02 327.36A55.63 55.63 0 0 0 292.95 326.22L288.89 313.94A42.70 42.70 0 0 1 285.88 314.82ZM341.61 473.51A210.75 210.75 0 0 0 356.15 468.11L351.20 456.16A197.82 197.82 0 0 1 337.55 461.24ZM337.55 461.24A197.82 197.82 0 0 0 351.20 456.16L346.26 444.22A184.90 184.90 0 0 1 333.50 448.96ZM321.33 412.14A146.12 146.12 0 0 0 331.42 408.39L326.47 396.45A133.19 133.19 0 0 1 317.28 399.87ZM317.28 399.87A133.19 133.19 0 0 0 326.47 396.45L321.52 384.51A120.26 120.26 0 0 1 313.22 387.59ZM313.22 387.59A120.26 120.26 0 0 0 321.52 384.51L316.58 372.56A107.33 107.33 0 0 1 309.17 375.32ZM305.11 363.04A94.41 94.41 0 0 0 311.63 360.62L306.68 348.68A81.48 81.48 0 0 1 301.06 350.77ZM297.00 338.49A68.55 68.55 0 0 0 301.73 336.74L296.79 324.79A55.63 55.63 0 0 1 292.95 326.22ZM292.95 326.22A55.63 55.63 0 0 0 296.79 324.79L291.84 312.85A42.70 42.70 0 0 1 288.89 313.94ZM356.15 468.11A210.75 210.75 0 0 0 370.26 461.65L364.44 450.10A197.82 197.82 0 0 1 351.20 456.16ZM351.20 456.16A197.82 197.82 0 0 0 364.44 450.10L358.63 438.55A184.90 184.90 0 0 1 346.26 444.22ZM346.26 444.22A184.90 184.90 0 0 0 358.63 438.55L352.82 427.01A171.97 171.97 0 0 1 341.31 432.28ZM326.47 396.45A133.19 133.19 0 0 0 335.38 392.37L329.57 380.82A120.26 120.26 0 0 1 321.52 384.51ZM321.52 384.51A120.26 120.26 0 0 0 329.57 380.82L323.76 369.27A107.33 107.33 0 0 1 316.58 372.56ZM311.63 360.62A94.41 94.41 0 0 0 317.95 357.73L312.13 346.18A81.48 81.48 0 0 1 306.68 348.68ZM301.73 336.74A68.55 68.55 0 0 0 306.32 334.63L300.51 323.09A55.63 55.63 0 0 1 296.79 324.79ZM296.79 324.79A55.63 55.63 0 0 0 300.51 323.09L294.70 311.54A42.70 42.70 0 0 1 291.84 312.85ZM364.44 450.10A197.82 197.82 0 0 0 377.20 443.08L370.56 431.99A184.90 184.90 0 0 1 358.63 438.55ZM347.01 415.46A159.04 159.04 0 0 0 357.26 409.82L350.62 398.73A146.12 146.12 0 0 1 341.20 403.91ZM335.38 392.37A133.19 133.19 0 0 0 343.97 387.64L337.33 376.55A120.26 120.26 0 0 1 329.57 380.82ZM329.57 380.82A120.26 120.26 0 0 0 337.33 376.55L330.68 365.46A107.33 107.33 0 0 1 323.76 369.27ZM317.95 357.73A94.41 94.41 0 0 0 324.04 354.38L317.39 343.29A81.48 81.48 0 0 1 312.13 346.18ZM312.13 346.18A81.48 81.48 0 0 0 317.39 343.29L310.74 332.20A68.55 68.55 0 0 1 306.32 334.63ZM306.32 334.63A68.55 68.55 0 0 0 310.74 332.20L304.10 321.11A55.63 55.63 0 0 1 300.51 323.09ZM300.51 323.09A55.63 55.63 0 0 0 304.10 321.11L297.45 310.03A42.70 42.70 0 0 1 294.70 311.54ZM377.20 443.08A197.82 197.82 0 0 0 389.41 435.14L381.96 424.57A184.90 184.90 0 0 1 370.56 431.99ZM357.26 409.82A159.04 159.04 0 0 0 367.08 403.43L359.63 392.86A146.12 146.12 0 0 1 350.62 398.73ZM350.62 398.73A146.12 146.12 0 0 0 359.63 392.86L352.19 382.29A133.19 133.19 0 0 1 343.97 387.64ZM343.97 387.64A133.19 133.19 0 0 0 352.19 382.29L344.75 371.72A120.26 120.26 0 0 1 337.33 376.55ZM337.33 376.55A120.26 120.26 0 0 0 344.75 371.72L337.30 361.16A107.33 107.33 0 0 1 330.68 365.46ZM324.04 354.38A94.41 94.41 0 0 0 329.86 350.59L322.42 340.02A81.48 81.48 0 0 1 317.39 343.29ZM310.74 332.20A68.55 68.55 0 0 0 314.97 329.45L307.53 318.88A55.63 55.63 0 0 1 304.10 321.11ZM304.10 321.11A55.63 55.63 0 0 0 307.53 318.88L300.09 308.31A42.70 42.70 0 0 1 297.45 310.03ZM396.85 445.71A210.75 210.75 0 0 0 409.20 436.31L401.00 426.32A197.82 197.82 0 0 1 389.41 435.14ZM389.41 435.14A197.82 197.82 0 0 0 401.00 426.32L392.80 416.33A184.90 184.90 0 0 1 381.96 424.57ZM367.08 403.43A159.04 159.04 0 0 0 376.40 396.34L368.19 386.35A146.12 146.12 0 0 1 359.63 392.86ZM352.19 382.29A133.19 133.19 0 0 0 359.99 376.36L351.79 366.36A120.26 120.26 0 0 1 344.75 371.72ZM344.75 371.72A120.26 120.26 0 0 0 351.79 366.36L343.59 356.37A107.33 107.33 0 0 1 337.30 361.16ZM329.86 350.59A94.41 94.41 0 0 0 335.39 346.38L327.19 336.39A81.48 81.48 0 0 1 322.42 340.02ZM314.97 329.45A68.55 68.55 0 0 0 318.99 326.39L310.79 316.40A55.63 55.63 0 0 1 307.53 318.88ZM307.53 318.88A55.63 55.63 0 0 0 310.79 316.40L302.59 306.41A42.70 42.70 0 0 1 300.09 308.31ZM401.00 426.32A197.82 197.82 0 0 0 411.91 416.67L402.99 407.31A184.90 184.90 0 0 1 392.80 416.33ZM376.40 396.34A159.04 159.04 0 0 0 385.17 388.59L376.25 379.22A146.12 146.12 0 0 1 368.19 386.35ZM368.19 386.35A146.12 146.12 0 0 0 376.25 379.22L367.34 369.86A133.19 133.19 0 0 1 359.99 376.36ZM359.99 376.36A133.19 133.19 0 0 0 367.34 369.86L358.43 360.50A120.26 120.26 0 0 1 351.79 366.36ZM351.79 366.36A120.26 120.26 0 0 0 358.43 360.50L349.51 351.14A107.33 107.33 0 0 1 343.59 356.37ZM335.39 346.38A94.41 94.41 0 0 0 340.60 341.77L331.68 332.41A81.48 81.48 0 0 1 327.19 336.39ZM327.19 336.39A81.48 81.48 0 0 0 331.68 332.41L322.77 323.05A68.55 68.55 0 0 1 318.99 326.39ZM318.99 326.39A68.55 68.55 0 0 0 322.77 323.05L313.86 313.69A55.63 55.63 0 0 1 310.79 316.40ZM310.79 316.40A55.63 55.63 0 0 0 313.86 313.69L304.94 304.33A42.70 42.70 0 0 1 302.59 306.41ZM411.91 416.67A197.82 197.82 0 0 0 422.08 406.25L412.50 397.57A184.90 184.90 0 0 1 402.99 407.31ZM385.17 388.59A159.04 159.04 0 0 0 393.34 380.21L383.76 371.53A146.12 146.12 0 0 1 376.25 379.22ZM376.25 379.22A146.12 146.12 0 0 0 383.76 371.53L374.19 362.84A133.19 133.19 0 0 1 367.34 369.86ZM367.34 369.86A133.19 133.19 0 0 0 374.19 362.84L364.61 354.16A120.26 120.26 0 0 1 358.43 360.50ZM358.43 360.50A120.26 120.26 0 0 0 364.61 354.16L355.03 345.48A107.33 107.33 0 0 1 349.51 351.14ZM340.60 341.77A94.41 94.41 0 0 0 345.45 336.80L335.87 328.12A81.48 81.48 0 0 1 331.68 332.41ZM322.77 323.05A68.55 68.55 0 0 0 326.30 319.44L316.72 310.76A55.63 55.63 0 0 1 313.86 313.69ZM313.86 313.69A55.63 55.63 0 0 0 316.72 310.76L307.14 302.08A42.70 42.70 0 0 1 304.94 304.33ZM431.66 414.93A210.75 210.75 0 0 0 441.64 403.06L431.45 395.11A197.82 197.82 0 0 1 422.08 406.25ZM422.08 406.25A197.82 197.82 0 0 0 431.45 395.11L421.26 387.15A184.90 184.90 0 0 1 412.50 397.57ZM393.34 380.21A159.04 159.04 0 0 0 400.88 371.25L390.69 363.29A146.12 146.12 0 0 1 383.76 371.53ZM383.76 371.53A146.12 146.12 0 0 0 390.69 363.29L380.50 355.34A133.19 133.19 0 0 1 374.19 362.84ZM364.61 354.16A120.26 120.26 0 0 0 370.31 347.39L360.12 339.44A107.33 107.33 0 0 1 355.03 345.48ZM345.45 336.80A94.41 94.41 0 0 0 349.93 331.48L339.74 323.53A81.48 81.48 0 0 1 335.87 328.12ZM326.30 319.44A68.55 68.55 0 0 0 329.54 315.58L319.35 307.62A55.63 55.63 0 0 1 316.72 310.76ZM316.72 310.76A55.63 55.63 0 0 0 319.35 307.62L309.16 299.67A42.70 42.70 0 0 1 307.14 302.08ZM431.45 395.11A197.82 197.82 0 0 0 439.98 383.30L429.24 376.12A184.90 184.90 0 0 1 421.26 387.15ZM400.88 371.25A159.04 159.04 0 0 0 407.74 361.76L396.99 354.58A146.12 146.12 0 0 1 390.69 363.29ZM390.69 363.29A146.12 146.12 0 0 0 396.99 354.58L386.24 347.40A133.19 133.19 0 0 1 380.50 355.34ZM380.50 355.34A133.19 133.19 0 0 0 386.24 347.40L375.49 340.21A120.26 120.26 0 0 1 370.31 347.39ZM370.31 347.39A120.26 120.26 0 0 0 375.49 340.21L364.75 333.03A107.33 107.33 0 0 1 360.12 339.44ZM360.12 339.44A107.33 107.33 0 0 0 364.75 333.03L354.00 325.85A94.41 94.41 0 0 1 349.93 331.48ZM349.93 331.48A94.41 94.41 0 0 0 354.00 325.85L343.25 318.67A81.48 81.48 0 0 1 339.74 323.53ZM319.35 307.62A55.63 55.63 0 0 0 321.75 304.30L311.00 297.12A42.70 42.70 0 0 1 309.16 299.67ZM439.98 383.30A197.82 197.82 0 0 0 447.62 370.91L436.38 364.53A184.90 184.90 0 0 1 429.24 376.12ZM407.74 361.76A159.04 159.04 0 0 0 413.88 351.79L402.63 345.42A146.12 146.12 0 0 1 396.99 354.58ZM396.99 354.58A146.12 146.12 0 0 0 402.63 345.42L391.39 339.05A133.19 133.19 0 0 1 386.24 347.40ZM386.24 347.40A133.19 133.19 0 0 0 391.39 339.05L380.14 332.68A120.26 120.26 0 0 1 375.49 340.21ZM375.49 340.21A120.26 120.26 0 0 0 380.14 332.68L368.89 326.31A107.33 107.33 0 0 1 364.75 333.03ZM321.75 304.30A55.63 55.63 0 0 0 323.90 300.82L312.65 294.45A42.70 42.70 0 0 1 311.00 297.12ZM458.87 377.28A210.75 210.75 0 0 0 466.02 363.51L454.33 357.98A197.82 197.82 0 0 1 447.62 370.91ZM447.62 370.91A197.82 197.82 0 0 0 454.33 357.98L442.64 352.45A184.90 184.90 0 0 1 436.38 364.53ZM402.63 345.42A146.12 146.12 0 0 0 407.59 335.87L395.90 330.35A133.19 133.19 0 0 1 391.39 339.05ZM391.39 339.05A133.19 133.19 0 0 0 395.90 330.35L384.22 324.82A120.26 120.26 0 0 1 380.14 332.68ZM380.14 332.68A120.26 120.26 0 0 0 384.22 324.82L372.53 319.29A107.33 107.33 0 0 1 368.89 326.31ZM357.64 319.93A94.41 94.41 0 0 0 360.84 313.76L349.16 308.24A81.48 81.48 0 0 1 346.40 313.56ZM346.40 313.56A81.48 81.48 0 0 0 349.16 308.24L337.47 302.71A68.55 68.55 0 0 1 335.15 307.19ZM466.02 363.51A210.75 210.75 0 0 0 472.13 349.25L460.07 344.60A197.82 197.82 0 0 1 454.33 357.98ZM454.33 357.98A197.82 197.82 0 0 0 460.07 344.60L448.01 339.94A184.90 184.90 0 0 1 442.64 352.45ZM395.90 330.35A133.19 133.19 0 0 0 399.76 321.33L387.70 316.68A120.26 120.26 0 0 1 384.22 324.82ZM384.22 324.82A120.26 120.26 0 0 0 387.70 316.68L375.64 312.03A107.33 107.33 0 0 1 372.53 319.29ZM349.16 308.24A81.48 81.48 0 0 0 351.52 302.72L339.46 298.07A68.55 68.55 0 0 1 337.47 302.71ZM337.47 302.71A68.55 68.55 0 0 0 339.46 298.07L327.40 293.42A55.63 55.63 0 0 1 325.79 297.18ZM460.07 344.60A197.82 197.82 0 0 0 464.80 330.83L452.43 327.07A184.90 184.90 0 0 1 448.01 339.94ZM411.82 325.99A146.12 146.12 0 0 0 415.32 315.82L402.95 312.06A133.19 133.19 0 0 1 399.76 321.33ZM399.76 321.33A133.19 133.19 0 0 0 402.95 312.06L390.58 308.31A120.26 120.26 0 0 1 387.70 316.68ZM387.70 316.68A120.26 120.26 0 0 0 390.58 308.31L378.21 304.56A107.33 107.33 0 0 1 375.64 312.03ZM351.52 302.72A81.48 81.48 0 0 0 353.47 297.05L341.10 293.30A68.55 68.55 0 0 1 339.46 298.07ZM339.46 298.07A68.55 68.55 0 0 0 341.10 293.30L328.73 289.55A55.63 55.63 0 0 1 327.40 293.42ZM464.80 330.83A197.82 197.82 0 0 0 468.52 316.74L455.90 313.91A184.90 184.90 0 0 1 452.43 327.07ZM427.69 319.57A159.04 159.04 0 0 0 430.68 308.25L418.07 305.41A146.12 146.12 0 0 1 415.32 315.82ZM402.95 312.06A133.19 133.19 0 0 0 405.45 302.58L392.84 299.75A120.26 120.26 0 0 1 390.58 308.31ZM390.58 308.31A120.26 120.26 0 0 0 392.84 299.75L380.23 296.92A107.33 107.33 0 0 1 378.21 304.56ZM365.84 300.81A94.41 94.41 0 0 0 367.61 294.08L355.00 291.25A81.48 81.48 0 0 1 353.47 297.05ZM353.47 297.05A81.48 81.48 0 0 0 355.00 291.25L342.39 288.42A68.55 68.55 0 0 1 341.10 293.30ZM341.10 293.30A68.55 68.55 0 0 0 342.39 288.42L329.78 285.59A55.63 55.63 0 0 1 328.73 289.55ZM481.13 319.58A210.75 210.75 0 0 0 483.97 304.32L471.18 302.43A197.82 197.82 0 0 1 468.52 316.74ZM468.52 316.74A197.82 197.82 0 0 0 471.18 302.43L458.39 300.53A184.90 184.90 0 0 1 455.90 313.91ZM430.68 308.25A159.04 159.04 0 0 0 432.82 296.74L420.03 294.84A146.12 146.12 0 0 1 418.07 305.41ZM405.45 302.58A133.19 133.19 0 0 0 407.25 292.94L394.46 291.05A120.26 120.26 0 0 1 392.84 299.75ZM392.84 299.75A120.26 120.26 0 0 0 394.46 291.05L381.67 289.15A107.33 107.33 0 0 1 380.23 296.92ZM367.61 294.08A94.41 94.41 0 0 0 368.89 287.25L356.10 285.36A81.48 81.48 0 0 1 355.00 291.25ZM355.00 291.25A81.48 81.48 0 0 0 356.10 285.36L343.31 283.46A68.55 68.55 0 0 1 342.39 288.42ZM483.97 304.32A210.75 210.75 0 0 0 485.68 288.90L472.79 287.95A197.82 197.82 0 0 1 471.18 302.43ZM471.18 302.43A197.82 197.82 0 0 0 472.79 287.95L459.90 287.00A184.90 184.90 0 0 1 458.39 300.53ZM432.82 296.74A159.04 159.04 0 0 0 434.11 285.10L421.22 284.15A146.12 146.12 0 0 1 420.03 294.84ZM407.25 292.94A133.19 133.19 0 0 0 408.33 283.20L395.44 282.25A120.26 120.26 0 0 1 394.46 291.05ZM394.46 291.05A120.26 120.26 0 0 0 395.44 282.25L382.54 281.30A107.33 107.33 0 0 1 381.67 289.15ZM368.89 287.25A94.41 94.41 0 0 0 369.65 280.35L356.76 279.39A81.48 81.48 0 0 1 356.10 285.36ZM356.10 285.36A81.48 81.48 0 0 0 356.76 279.39L343.87 278.44A68.55 68.55 0 0 1 343.31 283.46ZM330.52 281.56A55.63 55.63 0 0 0 330.98 277.49L318.08 276.54A42.70 42.70 0 0 1 317.74 279.67ZM485.68 288.90A210.75 210.75 0 0 0 486.25 273.40L473.32 273.40A197.82 197.82 0 0 1 472.79 287.95ZM472.79 287.95A197.82 197.82 0 0 0 473.32 273.40L460.40 273.40A184.90 184.90 0 0 1 459.90 287.00ZM434.11 285.10A159.04 159.04 0 0 0 434.54 273.40L421.62 273.40A146.12 146.12 0 0 1 421.22 284.15ZM408.33 283.20A133.19 133.19 0 0 0 408.69 273.40L395.76 273.40A120.26 120.26 0 0 1 395.44 282.25ZM395.44 282.25A120.26 120.26 0 0 0 395.76 273.40L382.83 273.40A107.33 107.33 0 0 1 382.54 281.30ZM369.65 280.35A94.41 94.41 0 0 0 369.91 273.40L356.98 273.40A81.48 81.48 0 0 1 356.76 279.39ZM356.76 279.39A81.48 81.48 0 0 0 356.98 273.40L344.05 273.40A68.55 68.55 0 0 1 343.87 278.44ZM330.98 277.49A55.63 55.63 0 0 0 331.13 273.40L318.20 273.40A42.70 42.70 0 0 1 318.08 276.54Z"/>
<path fill="#d1b490" d="M275.50 88.50A184.90 184.90 0 0 0 261.90 89.00L262.85 101.90A171.97 171.97 0 0 1 275.50 101.43ZM275.50 114.36A159.04 159.04 0 0 0 263.80 114.79L264.75 127.68A146.12 146.12 0 0 1 275.50 127.28ZM261.90 89.00A184.90 184.90 0 0 0 248.37 90.51L250.27 103.29A171.97 171.97 0 0 1 262.85 101.90ZM263.80 114.79A159.04 159.04 0 0 0 252.16 116.08L254.06 128.87A146.12 146.12 0 0 1 264.75 127.68ZM259.75 167.23A107.33 107.33 0 0 0 251.98 168.67L254.82 181.29A94.41 94.41 0 0 1 261.65 180.01ZM251.98 168.67A107.33 107.33 0 0 0 244.34 170.69L248.09 183.06A94.41 94.41 0 0 1 254.82 181.29ZM257.65 193.90A81.48 81.48 0 0 0 251.85 195.43L255.60 207.80A68.55 68.55 0 0 1 260.48 206.51ZM240.66 199.74A81.48 81.48 0 0 0 235.34 202.50L241.71 213.75A68.55 68.55 0 0 1 246.19 211.43ZM246.19 211.43A68.55 68.55 0 0 0 241.71 213.75L248.08 225.00A55.63 55.63 0 0 1 251.72 223.11ZM215.87 184.15A107.33 107.33 0 0 0 209.46 188.78L217.42 198.97A94.41 94.41 0 0 1 223.05 194.90ZM185.61 158.21A146.12 146.12 0 0 0 177.37 165.14L186.06 174.71A133.19 133.19 0 0 1 193.56 168.40ZM209.46 188.78A107.33 107.33 0 0 0 203.42 193.87L212.10 203.45A94.41 94.41 0 0 1 217.42 198.97ZM203.42 193.87A107.33 107.33 0 0 0 197.76 199.39L207.13 208.30A94.41 94.41 0 0 1 212.10 203.45ZM179.04 181.56A133.19 133.19 0 0 0 172.54 188.91L182.54 197.11A120.26 120.26 0 0 1 188.40 190.47ZM197.76 199.39A107.33 107.33 0 0 0 192.53 205.31L202.52 213.51A94.41 94.41 0 0 1 207.13 208.30ZM132.57 156.10A184.90 184.90 0 0 0 124.33 166.94L134.90 174.38A171.97 171.97 0 0 1 142.57 164.30ZM192.53 205.31A107.33 107.33 0 0 0 187.74 211.60L198.31 219.04A94.41 94.41 0 0 1 202.52 213.51ZM187.74 211.60A107.33 107.33 0 0 0 183.44 218.22L194.52 224.86A94.41 94.41 0 0 1 198.31 219.04ZM219.45 233.93A68.55 68.55 0 0 0 216.70 238.16L227.79 244.80A55.63 55.63 0 0 1 230.02 241.37ZM128.00 184.99A171.97 171.97 0 0 0 121.89 196.08L133.44 201.89A159.04 159.04 0 0 1 139.08 191.64ZM216.70 238.16A68.55 68.55 0 0 0 214.27 242.58L225.81 248.39A55.63 55.63 0 0 1 227.79 244.80ZM225.81 248.39A55.63 55.63 0 0 0 224.11 252.11L236.05 257.06A42.70 42.70 0 0 1 237.36 254.20ZM80.79 192.75A210.75 210.75 0 0 0 75.39 207.29L87.66 211.35A197.82 197.82 0 0 1 92.74 197.70ZM176.34 232.32A107.33 107.33 0 0 0 173.58 239.73L185.86 243.79A94.41 94.41 0 0 1 188.28 237.27ZM171.38 247.32A107.33 107.33 0 0 0 169.75 255.05L182.48 257.26A94.41 94.41 0 0 1 183.92 250.46ZM207.28 266.68A68.55 68.55 0 0 0 206.97 271.72L219.89 272.03A55.63 55.63 0 0 1 220.14 267.95ZM220.14 267.95A55.63 55.63 0 0 0 219.89 272.03L232.81 272.35A42.70 42.70 0 0 1 233.01 269.21ZM103.58 269.18A171.97 171.97 0 0 0 103.74 281.84L116.65 281.20A159.04 159.04 0 0 1 116.51 269.50ZM206.97 271.72A68.55 68.55 0 0 0 207.03 276.76L219.94 276.13A55.63 55.63 0 0 1 219.89 272.03ZM219.89 272.03A55.63 55.63 0 0 0 219.94 276.13L232.85 275.50A42.70 42.70 0 0 1 232.81 272.35ZM90.83 282.47A184.90 184.90 0 0 0 91.99 296.03L104.82 294.45A171.97 171.97 0 0 1 103.74 281.84ZM219.94 276.13A55.63 55.63 0 0 0 220.29 280.21L233.12 278.63A42.70 42.70 0 0 1 232.85 275.50ZM168.97 286.54A107.33 107.33 0 0 0 170.23 294.34L182.91 291.82A94.41 94.41 0 0 1 181.80 284.96ZM220.29 280.21A55.63 55.63 0 0 0 220.94 284.25L233.62 281.73A42.70 42.70 0 0 1 233.12 278.63ZM170.23 294.34A107.33 107.33 0 0 0 172.05 302.03L184.51 298.58A94.41 94.41 0 0 1 182.91 291.82ZM220.94 284.25A55.63 55.63 0 0 0 221.89 288.24L234.35 284.79A42.70 42.70 0 0 1 233.62 281.73ZM221.89 288.24A55.63 55.63 0 0 0 223.12 292.14L235.30 287.79A42.70 42.70 0 0 1 234.35 284.79ZM101.41 335.69A184.90 184.90 0 0 0 106.47 348.33L118.28 343.09A171.97 171.97 0 0 1 113.58 331.33ZM198.78 300.85A81.48 81.48 0 0 0 201.01 306.42L212.83 301.18A68.55 68.55 0 0 1 210.95 296.50ZM210.95 296.50A68.55 68.55 0 0 0 212.83 301.18L224.65 295.94A55.63 55.63 0 0 1 223.12 292.14ZM223.12 292.14A55.63 55.63 0 0 0 224.65 295.94L236.46 290.70A42.70 42.70 0 0 1 235.30 287.79ZM212.83 301.18A68.55 68.55 0 0 0 215.04 305.72L226.44 299.62A55.63 55.63 0 0 1 224.65 295.94ZM224.65 295.94A55.63 55.63 0 0 0 226.44 299.62L237.84 293.53A42.70 42.70 0 0 1 236.46 290.70ZM203.64 311.81A81.48 81.48 0 0 0 206.66 316.99L217.58 310.08A68.55 68.55 0 0 1 215.04 305.72ZM130.21 365.40A171.97 171.97 0 0 0 137.37 375.84L147.76 368.14A159.04 159.04 0 0 1 141.13 358.49ZM184.82 330.82A107.33 107.33 0 0 0 189.29 337.34L199.67 329.64A94.41 94.41 0 0 1 195.74 323.91ZM206.66 316.99A81.48 81.48 0 0 0 210.05 321.94L220.44 314.24A68.55 68.55 0 0 1 217.58 310.08ZM217.58 310.08A68.55 68.55 0 0 0 220.44 314.24L230.82 306.54A55.63 55.63 0 0 1 228.50 303.16ZM137.37 375.84A171.97 171.97 0 0 0 145.28 385.73L155.07 377.28A159.04 159.04 0 0 1 147.76 368.14ZM189.29 337.34A107.33 107.33 0 0 0 194.23 343.51L204.01 335.06A94.41 94.41 0 0 1 199.67 329.64ZM220.44 314.24A68.55 68.55 0 0 0 223.59 318.18L233.38 309.73A55.63 55.63 0 0 1 230.82 306.54ZM223.59 318.18A68.55 68.55 0 0 0 227.03 321.87L236.17 312.73A55.63 55.63 0 0 1 233.38 309.73ZM181.32 367.58A133.19 133.19 0 0 0 188.50 374.25L196.95 364.46A120.26 120.26 0 0 1 190.46 358.44ZM217.88 331.02A81.48 81.48 0 0 0 222.28 335.10L230.72 325.31A68.55 68.55 0 0 1 227.03 321.87ZM205.39 354.67A107.33 107.33 0 0 0 211.56 359.61L219.26 349.23A94.41 94.41 0 0 1 213.84 344.89ZM222.28 335.10A81.48 81.48 0 0 0 226.96 338.85L234.66 328.46A68.55 68.55 0 0 1 230.72 325.31ZM211.56 359.61A107.33 107.33 0 0 0 218.08 364.08L224.99 353.16A94.41 94.41 0 0 1 219.26 349.23ZM219.26 349.23A94.41 94.41 0 0 0 224.99 353.16L231.91 342.24A81.48 81.48 0 0 1 226.96 338.85ZM218.08 364.08A107.33 107.33 0 0 0 224.90 368.06L231.00 356.66A94.41 94.41 0 0 1 224.99 353.16ZM231.91 342.24A81.48 81.48 0 0 0 237.09 345.26L243.18 333.86A68.55 68.55 0 0 1 238.82 331.32ZM206.62 402.26A146.12 146.12 0 0 0 216.29 406.98L221.53 395.16A133.19 133.19 0 0 1 212.72 390.86ZM224.90 368.06A107.33 107.33 0 0 0 232.00 371.53L237.24 359.71A94.41 94.41 0 0 1 231.00 356.66ZM243.18 333.86A68.55 68.55 0 0 0 247.72 336.07L252.96 324.25A55.63 55.63 0 0 1 249.28 322.46ZM200.57 442.43A184.90 184.90 0 0 0 213.21 447.49L217.57 435.32A171.97 171.97 0 0 1 205.81 430.62ZM232.00 371.53A107.33 107.33 0 0 0 239.34 374.46L243.70 362.29A94.41 94.41 0 0 1 237.24 359.71ZM242.48 347.89A81.48 81.48 0 0 0 248.05 350.12L252.40 337.95A68.55 68.55 0 0 1 247.72 336.07ZM239.34 374.46A107.33 107.33 0 0 0 246.87 376.85L250.32 364.39A94.41 94.41 0 0 1 243.70 362.29ZM252.40 337.95A68.55 68.55 0 0 0 257.22 339.47L260.66 327.01A55.63 55.63 0 0 1 256.76 325.78ZM229.63 439.14A171.97 171.97 0 0 0 241.95 442.06L244.47 429.39A159.04 159.04 0 0 1 233.08 426.68ZM246.87 376.85A107.33 107.33 0 0 0 254.56 378.67L257.08 365.99A94.41 94.41 0 0 1 250.32 364.39ZM272.77 328.96A55.63 55.63 0 0 0 276.87 329.01L276.55 316.09A42.70 42.70 0 0 1 273.40 316.05ZM276.87 329.01A55.63 55.63 0 0 0 280.95 328.76L279.69 315.89A42.70 42.70 0 0 1 276.55 316.09ZM289.82 418.81A146.12 146.12 0 0 0 300.48 417.36L298.27 404.63A133.19 133.19 0 0 1 288.55 405.95ZM300.48 417.36A146.12 146.12 0 0 0 311.00 415.14L307.86 402.60A133.19 133.19 0 0 1 298.27 404.63ZM333.50 448.96A184.90 184.90 0 0 0 346.26 444.22L341.31 432.28A171.97 171.97 0 0 1 329.44 436.69ZM301.06 350.77A81.48 81.48 0 0 0 306.68 348.68L301.73 336.74A68.55 68.55 0 0 1 297.00 338.49ZM316.58 372.56A107.33 107.33 0 0 0 323.76 369.27L317.95 357.73A94.41 94.41 0 0 1 311.63 360.62ZM306.68 348.68A81.48 81.48 0 0 0 312.13 346.18L306.32 334.63A68.55 68.55 0 0 1 301.73 336.74ZM383.85 454.17A210.75 210.75 0 0 0 396.85 445.71L389.41 435.14A197.82 197.82 0 0 1 377.20 443.08ZM370.56 431.99A184.90 184.90 0 0 0 381.96 424.57L374.52 414.00A171.97 171.97 0 0 1 363.91 420.90ZM317.39 343.29A81.48 81.48 0 0 0 322.42 340.02L314.97 329.45A68.55 68.55 0 0 1 310.74 332.20ZM381.96 424.57A184.90 184.90 0 0 0 392.80 416.33L384.60 406.33A171.97 171.97 0 0 1 374.52 414.00ZM322.42 340.02A81.48 81.48 0 0 0 327.19 336.39L318.99 326.39A68.55 68.55 0 0 1 314.97 329.45ZM409.20 436.31A210.75 210.75 0 0 0 420.82 426.04L411.91 416.67A197.82 197.82 0 0 1 401.00 426.32ZM420.82 426.04A210.75 210.75 0 0 0 431.66 414.93L422.08 406.25A197.82 197.82 0 0 1 411.91 416.67ZM331.68 332.41A81.48 81.48 0 0 0 335.87 328.12L326.30 319.44A68.55 68.55 0 0 1 322.77 323.05ZM335.87 328.12A81.48 81.48 0 0 0 339.74 323.53L329.54 315.58A68.55 68.55 0 0 1 326.30 319.44ZM441.64 403.06A210.75 210.75 0 0 0 450.73 390.49L439.98 383.30A197.82 197.82 0 0 1 431.45 395.11ZM418.49 368.94A171.97 171.97 0 0 0 425.13 358.16L413.88 351.79A159.04 159.04 0 0 1 407.74 361.76ZM364.75 333.03A107.33 107.33 0 0 0 368.89 326.31L357.64 319.93A94.41 94.41 0 0 1 354.00 325.85ZM323.90 300.82A55.63 55.63 0 0 0 325.79 297.18L314.10 291.66A42.70 42.70 0 0 1 312.65 294.45ZM325.79 297.18A55.63 55.63 0 0 0 327.40 293.42L315.34 288.77A42.70 42.70 0 0 1 314.10 291.66ZM327.40 293.42A55.63 55.63 0 0 0 328.73 289.55L316.36 285.80A42.70 42.70 0 0 1 315.34 288.77ZM328.73 289.55A55.63 55.63 0 0 0 329.78 285.59L317.16 282.76A42.70 42.70 0 0 1 316.36 285.80ZM329.78 285.59A55.63 55.63 0 0 0 330.52 281.56L317.74 279.67A42.70 42.70 0 0 1 317.16 282.76ZM458.39 300.53A184.90 184.90 0 0 0 459.90 287.00L447.00 286.05A171.97 171.97 0 0 1 445.61 298.63ZM421.22 284.15A146.12 146.12 0 0 0 421.62 273.40L408.69 273.40A133.19 133.19 0 0 1 408.33 283.20Z"/>
<path fill="#dba56b" d="M275.50 101.43A171.97 171.97 0 0 0 262.85 101.90L263.80 114.79A159.04 159.04 0 0 1 275.50 114.36ZM262.85 101.90A171.97 171.97 0 0 0 250.27 103.29L252.16 116.08A159.04 159.04 0 0 1 263.80 114.79ZM248.37 90.51A184.90 184.90 0 0 0 234.99 93.00L237.82 105.61A171.97 171.97 0 0 1 250.27 103.29ZM250.27 103.29A171.97 171.97 0 0 0 237.82 105.61L240.65 118.22A159.04 159.04 0 0 1 252.16 116.08ZM260.48 206.51A68.55 68.55 0 0 0 255.60 207.80L259.35 220.17A55.63 55.63 0 0 1 263.31 219.12ZM221.83 96.47A184.90 184.90 0 0 0 208.96 100.89L213.61 112.95A171.97 171.97 0 0 1 225.58 108.84ZM225.58 108.84A171.97 171.97 0 0 0 213.61 112.95L218.26 125.01A159.04 159.04 0 0 1 229.33 121.21ZM208.96 100.89A184.90 184.90 0 0 0 196.45 106.26L201.97 117.94A171.97 171.97 0 0 1 213.61 112.95ZM213.61 112.95A171.97 171.97 0 0 0 201.97 117.94L207.50 129.63A159.04 159.04 0 0 1 218.26 125.01ZM196.45 106.26A184.90 184.90 0 0 0 184.37 112.52L190.74 123.77A171.97 171.97 0 0 1 201.97 117.94ZM229.61 176.37A107.33 107.33 0 0 0 222.59 180.01L228.97 191.26A94.41 94.41 0 0 1 235.14 188.06ZM172.78 119.66A184.90 184.90 0 0 0 161.75 127.64L169.70 137.83A171.97 171.97 0 0 1 179.96 130.41ZM160.01 145.98A171.97 171.97 0 0 0 150.95 154.82L160.31 163.73A159.04 159.04 0 0 1 168.69 155.56ZM142.57 164.30A171.97 171.97 0 0 0 134.90 174.38L145.47 181.82A159.04 159.04 0 0 1 152.56 172.50ZM116.91 178.34A184.90 184.90 0 0 0 110.35 190.27L121.89 196.08A171.97 171.97 0 0 1 128.00 184.99ZM144.99 207.70A146.12 146.12 0 0 0 140.51 217.48L152.45 222.43A133.19 133.19 0 0 1 156.53 213.52ZM173.58 239.73A107.33 107.33 0 0 0 171.38 247.32L183.92 250.46A94.41 94.41 0 0 1 185.86 243.79ZM106.06 244.00A171.97 171.97 0 0 0 104.36 256.54L117.22 257.81A159.04 159.04 0 0 1 118.80 246.21ZM91.99 296.03A184.90 184.90 0 0 0 94.16 309.47L106.84 306.95A171.97 171.97 0 0 1 104.82 294.45ZM109.76 319.27A171.97 171.97 0 0 0 113.58 331.33L125.75 326.98A159.04 159.04 0 0 1 122.22 315.82ZM172.05 302.03A107.33 107.33 0 0 0 174.44 309.56L186.61 305.20A94.41 94.41 0 0 1 184.51 298.58ZM113.58 331.33A171.97 171.97 0 0 0 118.28 343.09L130.10 337.85A159.04 159.04 0 0 1 125.75 326.98ZM106.47 348.33A184.90 184.90 0 0 0 112.44 360.56L123.84 354.47A171.97 171.97 0 0 1 118.28 343.09ZM201.01 306.42A81.48 81.48 0 0 0 203.64 311.81L215.04 305.72A68.55 68.55 0 0 1 212.83 301.18ZM112.44 360.56A184.90 184.90 0 0 0 119.29 372.32L130.21 365.40A171.97 171.97 0 0 1 123.84 354.47ZM119.29 372.32A184.90 184.90 0 0 0 126.99 383.54L137.37 375.84A171.97 171.97 0 0 1 130.21 365.40ZM205.81 430.62A171.97 171.97 0 0 0 217.57 435.32L221.92 423.15A159.04 159.04 0 0 1 211.05 418.80ZM239.43 454.74A184.90 184.90 0 0 0 252.87 456.91L254.45 444.08A171.97 171.97 0 0 1 241.95 442.06ZM252.87 456.91A184.90 184.90 0 0 0 266.43 458.07L267.06 445.16A171.97 171.97 0 0 1 254.45 444.08ZM254.45 444.08A171.97 171.97 0 0 0 267.06 445.16L267.70 432.25A159.04 159.04 0 0 1 256.03 431.25ZM266.43 458.07A184.90 184.90 0 0 0 280.04 458.24L279.72 445.32A171.97 171.97 0 0 1 267.06 445.16ZM267.06 445.16A171.97 171.97 0 0 0 279.72 445.32L279.40 432.39A159.04 159.04 0 0 1 267.70 432.25ZM309.17 375.32A107.33 107.33 0 0 0 316.58 372.56L311.63 360.62A94.41 94.41 0 0 1 305.11 363.04ZM392.80 416.33A184.90 184.90 0 0 0 402.99 407.31L394.08 397.95A171.97 171.97 0 0 1 384.60 406.33ZM343.59 356.37A107.33 107.33 0 0 0 349.51 351.14L340.60 341.77A94.41 94.41 0 0 1 335.39 346.38ZM402.99 407.31A184.90 184.90 0 0 0 412.50 397.57L402.92 388.89A171.97 171.97 0 0 1 394.08 397.95ZM349.51 351.14A107.33 107.33 0 0 0 355.03 345.48L345.45 336.80A94.41 94.41 0 0 1 340.60 341.77ZM421.26 387.15A184.90 184.90 0 0 0 429.24 376.12L418.49 368.94A171.97 171.97 0 0 1 411.07 379.20ZM339.74 323.53A81.48 81.48 0 0 0 343.25 318.67L332.50 311.49A68.55 68.55 0 0 1 329.54 315.58ZM429.24 376.12A184.90 184.90 0 0 0 436.38 364.53L425.13 358.16A171.97 171.97 0 0 1 418.49 368.94ZM425.13 358.16A171.97 171.97 0 0 0 430.96 346.93L419.27 341.40A159.04 159.04 0 0 1 413.88 351.79ZM448.01 339.94A184.90 184.90 0 0 0 452.43 327.07L440.06 323.32A171.97 171.97 0 0 1 435.95 335.29ZM435.95 335.29A171.97 171.97 0 0 0 440.06 323.32L427.69 319.57A159.04 159.04 0 0 1 423.89 330.64ZM459.90 287.00A184.90 184.90 0 0 0 460.40 273.40L447.47 273.40A171.97 171.97 0 0 1 447.00 286.05Z"/>
<path fill="#ee9640" d="M275.50 166.07A107.33 107.33 0 0 0 267.60 166.36L268.55 179.25A94.41 94.41 0 0 1 275.50 178.99ZM267.60 166.36A107.33 107.33 0 0 0 259.75 167.23L261.65 180.01A94.41 94.41 0 0 1 268.55 179.25ZM236.87 173.26A107.33 107.33 0 0 0 229.61 176.37L235.14 188.06A94.41 94.41 0 0 1 241.52 185.32ZM222.59 180.01A107.33 107.33 0 0 0 215.87 184.15L223.05 194.90A94.41 94.41 0 0 1 228.97 191.26ZM212.51 221.71A81.48 81.48 0 0 0 208.88 226.48L219.45 233.93A68.55 68.55 0 0 1 222.51 229.91ZM110.35 190.27A184.90 184.90 0 0 0 104.68 202.64L116.62 207.59A171.97 171.97 0 0 1 121.89 196.08ZM116.62 207.59A171.97 171.97 0 0 0 112.21 219.46L124.48 223.51A159.04 159.04 0 0 1 128.56 212.54ZM112.21 219.46A171.97 171.97 0 0 0 108.68 231.61L121.22 234.76A159.04 159.04 0 0 1 124.48 223.51ZM97.30 322.71A184.90 184.90 0 0 0 101.41 335.69L113.58 331.33A171.97 171.97 0 0 1 109.76 319.27ZM180.84 324.00A107.33 107.33 0 0 0 184.82 330.82L195.74 323.91A94.41 94.41 0 0 1 192.24 317.90ZM126.99 383.54A184.90 184.90 0 0 0 135.49 394.17L145.28 385.73A171.97 171.97 0 0 1 137.37 375.84ZM213.80 326.62A81.48 81.48 0 0 0 217.88 331.02L227.03 321.87A68.55 68.55 0 0 1 223.59 318.18ZM144.76 404.14A184.90 184.90 0 0 0 154.73 413.41L163.17 403.62A171.97 171.97 0 0 1 153.90 395.00ZM153.90 395.00A171.97 171.97 0 0 0 163.17 403.62L171.62 393.83A159.04 159.04 0 0 1 163.04 385.86ZM163.17 403.62A171.97 171.97 0 0 0 173.06 411.53L180.76 401.14A159.04 159.04 0 0 1 171.62 393.83ZM188.34 436.46A184.90 184.90 0 0 0 200.57 442.43L205.81 430.62A171.97 171.97 0 0 1 194.43 425.06ZM270.23 380.61A107.33 107.33 0 0 0 278.13 380.70L277.82 367.78A94.41 94.41 0 0 1 270.87 367.69ZM278.13 380.70A107.33 107.33 0 0 0 286.02 380.22L284.75 367.35A94.41 94.41 0 0 1 277.82 367.78ZM412.50 397.57A184.90 184.90 0 0 0 421.26 387.15L411.07 379.20A171.97 171.97 0 0 1 402.92 388.89ZM355.03 345.48A107.33 107.33 0 0 0 360.12 339.44L349.93 331.48A94.41 94.41 0 0 1 345.45 336.80ZM368.89 326.31A107.33 107.33 0 0 0 372.53 319.29L360.84 313.76A94.41 94.41 0 0 1 357.64 319.93ZM440.06 323.32A171.97 171.97 0 0 0 443.29 311.08L430.68 308.25A159.04 159.04 0 0 1 427.69 319.57ZM378.21 304.56A107.33 107.33 0 0 0 380.23 296.92L367.61 294.08A94.41 94.41 0 0 1 365.84 300.81ZM380.23 296.92A107.33 107.33 0 0 0 381.67 289.15L368.89 287.25A94.41 94.41 0 0 1 367.61 294.08ZM381.67 289.15A107.33 107.33 0 0 0 382.54 281.30L369.65 280.35A94.41 94.41 0 0 1 368.89 287.25ZM382.54 281.30A107.33 107.33 0 0 0 382.83 273.40L369.91 273.40A94.41 94.41 0 0 1 369.65 280.35Z"/>
<path fill="#bcc0bd" d="M275.50 191.92A81.48 81.48 0 0 0 269.51 192.14L270.46 205.03A68.55 68.55 0 0 1 275.50 204.85ZM275.50 204.85A68.55 68.55 0 0 0 270.46 205.03L271.41 217.92A55.63 55.63 0 0 1 275.50 217.77ZM269.51 192.14A81.48 81.48 0 0 0 263.54 192.80L265.44 205.59A68.55 68.55 0 0 1 270.46 205.03ZM270.46 205.03A68.55 68.55 0 0 0 265.44 205.59L267.34 218.38A55.63 55.63 0 0 1 271.41 217.92ZM257.85 154.44A120.26 120.26 0 0 0 249.15 156.06L251.98 168.67A107.33 107.33 0 0 1 259.75 167.23ZM261.65 180.01A94.41 94.41 0 0 0 254.82 181.29L257.65 193.90A81.48 81.48 0 0 1 263.54 192.80ZM263.54 192.80A81.48 81.48 0 0 0 257.65 193.90L260.48 206.51A68.55 68.55 0 0 1 265.44 205.59ZM229.32 67.77A210.75 210.75 0 0 0 214.32 71.72L218.07 84.10A197.82 197.82 0 0 1 232.16 80.38ZM237.82 105.61A171.97 171.97 0 0 0 225.58 108.84L229.33 121.21A159.04 159.04 0 0 1 240.65 118.22ZM246.32 143.45A133.19 133.19 0 0 0 236.84 145.95L240.59 158.32A120.26 120.26 0 0 1 249.15 156.06ZM199.65 76.77A210.75 210.75 0 0 0 185.39 82.88L190.92 94.57A197.82 197.82 0 0 1 204.30 88.83ZM222.91 137.08A146.12 146.12 0 0 0 213.03 141.31L218.55 153.00A133.19 133.19 0 0 1 227.57 149.14ZM232.22 161.20A120.26 120.26 0 0 0 224.08 164.68L229.61 176.37A107.33 107.33 0 0 1 236.87 173.26ZM246.18 197.38A81.48 81.48 0 0 0 240.66 199.74L246.19 211.43A68.55 68.55 0 0 1 250.83 209.44ZM250.83 209.44A68.55 68.55 0 0 0 246.19 211.43L251.72 223.11A55.63 55.63 0 0 1 255.48 221.50ZM224.08 164.68A120.26 120.26 0 0 0 216.22 168.76L222.59 180.01A107.33 107.33 0 0 1 229.61 176.37ZM184.37 112.52A184.90 184.90 0 0 0 172.78 119.66L179.96 130.41A171.97 171.97 0 0 1 190.74 123.77ZM197.11 135.02A159.04 159.04 0 0 0 187.14 141.16L194.32 151.91A146.12 146.12 0 0 1 203.48 146.27ZM216.22 168.76A120.26 120.26 0 0 0 208.69 173.41L215.87 184.15A107.33 107.33 0 0 1 222.59 180.01ZM228.97 191.26A94.41 94.41 0 0 0 223.05 194.90L230.23 205.65A81.48 81.48 0 0 1 235.34 202.50ZM158.41 98.17A210.75 210.75 0 0 0 145.84 107.26L153.79 117.45A197.82 197.82 0 0 1 165.60 108.92ZM165.60 108.92A197.82 197.82 0 0 0 153.79 117.45L161.75 127.64A184.90 184.90 0 0 1 172.78 119.66ZM187.14 141.16A159.04 159.04 0 0 0 177.65 148.02L185.61 158.21A146.12 146.12 0 0 1 194.32 151.91ZM194.32 151.91A146.12 146.12 0 0 0 185.61 158.21L193.56 168.40A133.19 133.19 0 0 1 201.50 162.66ZM230.23 205.65A81.48 81.48 0 0 0 225.37 209.16L233.32 219.36A68.55 68.55 0 0 1 237.41 216.40ZM177.65 148.02A159.04 159.04 0 0 0 168.69 155.56L177.37 165.14A146.12 146.12 0 0 1 185.61 158.21ZM225.37 209.16A81.48 81.48 0 0 0 220.78 213.03L229.46 222.60A68.55 68.55 0 0 1 233.32 219.36ZM151.33 136.40A184.90 184.90 0 0 0 141.59 145.91L150.95 154.82A171.97 171.97 0 0 1 160.01 145.98ZM168.69 155.56A159.04 159.04 0 0 0 160.31 163.73L169.68 172.65A146.12 146.12 0 0 1 177.37 165.14ZM194.74 184.29A120.26 120.26 0 0 0 188.40 190.47L197.76 199.39A107.33 107.33 0 0 1 203.42 193.87ZM220.78 213.03A81.48 81.48 0 0 0 216.49 217.22L225.85 226.13A68.55 68.55 0 0 1 229.46 222.60ZM141.59 145.91A184.90 184.90 0 0 0 132.57 156.10L142.57 164.30A171.97 171.97 0 0 1 150.95 154.82ZM207.13 208.30A94.41 94.41 0 0 0 202.52 213.51L212.51 221.71A81.48 81.48 0 0 1 216.49 217.22ZM225.85 226.13A68.55 68.55 0 0 0 222.51 229.91L232.50 238.11A55.63 55.63 0 0 1 235.21 235.04ZM112.59 139.70A210.75 210.75 0 0 0 103.19 152.05L113.76 159.49A197.82 197.82 0 0 1 122.58 147.90ZM162.55 180.71A146.12 146.12 0 0 0 156.04 189.27L166.61 196.71A133.19 133.19 0 0 1 172.54 188.91ZM202.52 213.51A94.41 94.41 0 0 0 198.31 219.04L208.88 226.48A81.48 81.48 0 0 1 212.51 221.71ZM222.51 229.91A68.55 68.55 0 0 0 219.45 233.93L230.02 241.37A55.63 55.63 0 0 1 232.50 238.11ZM156.04 189.27A146.12 146.12 0 0 0 150.17 198.28L161.26 204.93A133.19 133.19 0 0 1 166.61 196.71ZM198.31 219.04A94.41 94.41 0 0 0 194.52 224.86L205.61 231.51A81.48 81.48 0 0 1 208.88 226.48ZM208.88 226.48A81.48 81.48 0 0 0 205.61 231.51L216.70 238.16A68.55 68.55 0 0 1 219.45 233.93ZM94.73 165.05A210.75 210.75 0 0 0 87.25 178.64L98.80 184.46A197.82 197.82 0 0 1 105.82 171.70ZM161.26 204.93A133.19 133.19 0 0 0 156.53 213.52L168.08 219.33A120.26 120.26 0 0 1 172.35 211.57ZM183.44 218.22A107.33 107.33 0 0 0 179.63 225.14L191.17 230.95A94.41 94.41 0 0 1 194.52 224.86ZM205.61 231.51A81.48 81.48 0 0 0 202.72 236.77L214.27 242.58A68.55 68.55 0 0 1 216.70 238.16ZM156.53 213.52A133.19 133.19 0 0 0 152.45 222.43L164.39 227.38A120.26 120.26 0 0 1 168.08 219.33ZM179.63 225.14A107.33 107.33 0 0 0 176.34 232.32L188.28 237.27A94.41 94.41 0 0 1 191.17 230.95ZM202.72 236.77A81.48 81.48 0 0 0 200.22 242.22L212.16 247.17A68.55 68.55 0 0 1 214.27 242.58ZM188.28 237.27A94.41 94.41 0 0 0 185.86 243.79L198.13 247.84A81.48 81.48 0 0 1 200.22 242.22ZM200.22 242.22A81.48 81.48 0 0 0 198.13 247.84L210.41 251.90A68.55 68.55 0 0 1 212.16 247.17ZM161.31 235.68A120.26 120.26 0 0 0 158.84 244.18L171.38 247.32A107.33 107.33 0 0 1 173.58 239.73ZM185.86 243.79A94.41 94.41 0 0 0 183.92 250.46L196.46 253.60A81.48 81.48 0 0 1 198.13 247.84ZM196.46 253.60A81.48 81.48 0 0 0 195.22 259.47L207.96 261.68A68.55 68.55 0 0 1 209.00 256.74ZM169.75 255.05A107.33 107.33 0 0 0 168.68 262.88L181.55 264.15A94.41 94.41 0 0 1 182.48 257.26ZM195.22 259.47A81.48 81.48 0 0 0 194.41 265.41L207.28 266.68A68.55 68.55 0 0 1 207.96 261.68ZM220.69 263.89A55.63 55.63 0 0 0 220.14 267.95L233.01 269.21A42.70 42.70 0 0 1 233.43 266.10ZM65.76 252.74A210.75 210.75 0 0 0 64.81 268.23L77.74 268.55A197.82 197.82 0 0 1 78.63 254.01ZM117.22 257.81A159.04 159.04 0 0 0 116.51 269.50L129.43 269.81A146.12 146.12 0 0 1 130.09 259.08ZM130.09 259.08A146.12 146.12 0 0 0 129.43 269.81L142.35 270.13A133.19 133.19 0 0 1 142.95 260.35ZM155.82 261.61A120.26 120.26 0 0 0 155.27 270.45L168.20 270.77A107.33 107.33 0 0 1 168.68 262.88ZM168.68 262.88A107.33 107.33 0 0 0 168.20 270.77L181.12 271.08A94.41 94.41 0 0 1 181.55 264.15ZM64.81 268.23A210.75 210.75 0 0 0 65.00 283.74L77.92 283.11A197.82 197.82 0 0 1 77.74 268.55ZM116.51 269.50A159.04 159.04 0 0 0 116.65 281.20L129.56 280.57A146.12 146.12 0 0 1 129.43 269.81ZM142.35 270.13A133.19 133.19 0 0 0 142.47 279.94L155.38 279.30A120.26 120.26 0 0 1 155.27 270.45ZM116.65 281.20A159.04 159.04 0 0 0 117.65 292.87L130.48 291.29A146.12 146.12 0 0 1 129.56 280.57ZM207.03 276.76A68.55 68.55 0 0 0 207.46 281.79L220.29 280.21A55.63 55.63 0 0 1 219.94 276.13ZM207.46 281.79A68.55 68.55 0 0 0 208.26 286.77L220.94 284.25A55.63 55.63 0 0 1 220.29 280.21ZM132.19 301.91A146.12 146.12 0 0 0 134.68 312.37L147.14 308.92A133.19 133.19 0 0 1 144.87 299.38ZM157.55 296.86A120.26 120.26 0 0 0 159.59 305.48L172.05 302.03A107.33 107.33 0 0 1 170.23 294.34ZM208.26 286.77A68.55 68.55 0 0 0 209.43 291.68L221.89 288.24A55.63 55.63 0 0 1 220.94 284.25ZM147.14 308.92A133.19 133.19 0 0 0 150.10 318.27L162.27 313.91A120.26 120.26 0 0 1 159.59 305.48ZM159.59 305.48A120.26 120.26 0 0 0 162.27 313.91L174.44 309.56A107.33 107.33 0 0 1 172.05 302.03ZM209.43 291.68A68.55 68.55 0 0 0 210.95 296.50L223.12 292.14A55.63 55.63 0 0 1 221.89 288.24ZM77.07 344.40A210.75 210.75 0 0 0 82.83 358.80L94.65 353.57A197.82 197.82 0 0 1 89.24 340.04ZM153.74 327.37A133.19 133.19 0 0 0 158.04 336.18L169.44 330.09A120.26 120.26 0 0 1 165.56 322.13ZM177.37 316.90A107.33 107.33 0 0 0 180.84 324.00L192.24 317.90A94.41 94.41 0 0 1 189.19 311.66ZM215.04 305.72A68.55 68.55 0 0 0 217.58 310.08L228.50 303.16A55.63 55.63 0 0 1 226.44 299.62ZM147.76 368.14A159.04 159.04 0 0 0 155.07 377.28L164.86 368.84A146.12 146.12 0 0 1 158.14 360.44ZM155.07 377.28A159.04 159.04 0 0 0 163.04 385.86L172.18 376.72A146.12 146.12 0 0 1 164.86 368.84ZM194.23 343.51A107.33 107.33 0 0 0 199.60 349.30L208.74 340.16A94.41 94.41 0 0 1 204.01 335.06ZM163.04 385.86A159.04 159.04 0 0 0 171.62 393.83L180.06 384.04A146.12 146.12 0 0 1 172.18 376.72ZM149.96 442.68A210.75 210.75 0 0 0 162.75 451.45L169.67 440.53A197.82 197.82 0 0 1 157.66 432.29ZM188.46 390.76A146.12 146.12 0 0 0 197.33 396.85L204.24 385.92A133.19 133.19 0 0 1 196.16 380.38ZM162.75 451.45A210.75 210.75 0 0 0 176.15 459.26L182.25 447.86A197.82 197.82 0 0 1 169.67 440.53ZM183.50 418.69A171.97 171.97 0 0 0 194.43 425.06L200.53 413.66A159.04 159.04 0 0 1 190.41 407.77ZM190.10 466.07A210.75 210.75 0 0 0 204.50 471.83L208.86 459.66A197.82 197.82 0 0 1 195.33 454.25ZM219.29 476.52A210.75 210.75 0 0 0 234.38 480.10L236.91 467.42A197.82 197.82 0 0 1 222.74 464.06ZM236.53 414.22A146.12 146.12 0 0 0 246.99 416.71L249.52 404.03A133.19 133.19 0 0 1 239.98 401.76ZM257.22 339.47A68.55 68.55 0 0 0 262.13 340.64L264.65 327.96A55.63 55.63 0 0 1 260.66 327.01ZM246.99 416.71A146.12 146.12 0 0 0 257.61 418.42L259.20 405.59A133.19 133.19 0 0 1 249.52 404.03ZM262.13 340.64A68.55 68.55 0 0 0 267.11 341.44L268.69 328.61A55.63 55.63 0 0 1 264.65 327.96ZM262.36 379.93A107.33 107.33 0 0 0 270.23 380.61L270.87 367.69A94.41 94.41 0 0 1 263.94 367.10ZM272.14 341.87A68.55 68.55 0 0 0 277.18 341.93L276.87 329.01A55.63 55.63 0 0 1 272.77 328.96ZM280.67 484.09A210.75 210.75 0 0 0 296.16 483.14L294.89 470.27A197.82 197.82 0 0 1 280.35 471.16ZM296.16 483.14A210.75 210.75 0 0 0 311.53 481.05L309.32 468.31A197.82 197.82 0 0 1 294.89 470.27ZM291.09 431.68A159.04 159.04 0 0 0 302.69 430.10L300.48 417.36A146.12 146.12 0 0 1 289.82 418.81ZM286.02 380.22A107.33 107.33 0 0 0 293.85 379.15L291.64 366.42A94.41 94.41 0 0 1 284.75 367.35ZM311.53 481.05A210.75 210.75 0 0 0 326.71 477.83L323.57 465.29A197.82 197.82 0 0 1 309.32 468.31ZM287.22 340.94A68.55 68.55 0 0 0 292.16 339.90L289.02 327.36A55.63 55.63 0 0 1 285.01 328.21ZM311.00 415.14A146.12 146.12 0 0 0 321.33 412.14L317.28 399.87A133.19 133.19 0 0 1 307.86 402.60ZM292.16 339.90A68.55 68.55 0 0 0 297.00 338.49L292.95 326.22A55.63 55.63 0 0 1 289.02 327.36ZM325.39 424.42A159.04 159.04 0 0 0 336.36 420.34L331.42 408.39A146.12 146.12 0 0 1 321.33 412.14ZM336.36 420.34A159.04 159.04 0 0 0 347.01 415.46L341.20 403.91A146.12 146.12 0 0 1 331.42 408.39ZM331.42 408.39A146.12 146.12 0 0 0 341.20 403.91L335.38 392.37A133.19 133.19 0 0 1 326.47 396.45ZM370.26 461.65A210.75 210.75 0 0 0 383.85 454.17L377.20 443.08A197.82 197.82 0 0 1 364.44 450.10ZM341.20 403.91A146.12 146.12 0 0 0 350.62 398.73L343.97 387.64A133.19 133.19 0 0 1 335.38 392.37ZM323.76 369.27A107.33 107.33 0 0 0 330.68 365.46L324.04 354.38A94.41 94.41 0 0 1 317.95 357.73ZM330.68 365.46A107.33 107.33 0 0 0 337.30 361.16L329.86 350.59A94.41 94.41 0 0 1 324.04 354.38ZM359.63 392.86A146.12 146.12 0 0 0 368.19 386.35L359.99 376.36A133.19 133.19 0 0 1 352.19 382.29ZM337.30 361.16A107.33 107.33 0 0 0 343.59 356.37L335.39 346.38A94.41 94.41 0 0 1 329.86 350.59ZM402.92 388.89A171.97 171.97 0 0 0 411.07 379.20L400.88 371.25A159.04 159.04 0 0 1 393.34 380.21ZM374.19 362.84A133.19 133.19 0 0 0 380.50 355.34L370.31 347.39A120.26 120.26 0 0 1 364.61 354.16ZM329.54 315.58A68.55 68.55 0 0 0 332.50 311.49L321.75 304.30A55.63 55.63 0 0 1 319.35 307.62ZM450.73 390.49A210.75 210.75 0 0 0 458.87 377.28L447.62 370.91A197.82 197.82 0 0 1 439.98 383.30ZM354.00 325.85A94.41 94.41 0 0 0 357.64 319.93L346.40 313.56A81.48 81.48 0 0 1 343.25 318.67ZM343.25 318.67A81.48 81.48 0 0 0 346.40 313.56L335.15 307.19A68.55 68.55 0 0 1 332.50 311.49ZM332.50 311.49A68.55 68.55 0 0 0 335.15 307.19L323.90 300.82A55.63 55.63 0 0 1 321.75 304.30ZM413.88 351.79A159.04 159.04 0 0 0 419.27 341.40L407.59 335.87A146.12 146.12 0 0 1 402.63 345.42ZM335.15 307.19A68.55 68.55 0 0 0 337.47 302.71L325.79 297.18A55.63 55.63 0 0 1 323.90 300.82ZM419.27 341.40A159.04 159.04 0 0 0 423.89 330.64L411.82 325.99A146.12 146.12 0 0 1 407.59 335.87ZM407.59 335.87A146.12 146.12 0 0 0 411.82 325.99L399.76 321.33A133.19 133.19 0 0 1 395.90 330.35ZM372.53 319.29A107.33 107.33 0 0 0 375.64 312.03L363.58 307.38A94.41 94.41 0 0 1 360.84 313.76ZM360.84 313.76A94.41 94.41 0 0 0 363.58 307.38L351.52 302.72A81.48 81.48 0 0 1 349.16 308.24ZM472.13 349.25A210.75 210.75 0 0 0 477.18 334.58L464.80 330.83A197.82 197.82 0 0 1 460.07 344.60ZM423.89 330.64A159.04 159.04 0 0 0 427.69 319.57L415.32 315.82A146.12 146.12 0 0 1 411.82 325.99ZM363.58 307.38A94.41 94.41 0 0 0 365.84 300.81L353.47 297.05A81.48 81.48 0 0 1 351.52 302.72ZM477.18 334.58A210.75 210.75 0 0 0 481.13 319.58L468.52 316.74A197.82 197.82 0 0 1 464.80 330.83ZM452.43 327.07A184.90 184.90 0 0 0 455.90 313.91L443.29 311.08A171.97 171.97 0 0 1 440.06 323.32ZM415.32 315.82A146.12 146.12 0 0 0 418.07 305.41L405.45 302.58A133.19 133.19 0 0 1 402.95 312.06ZM418.07 305.41A146.12 146.12 0 0 0 420.03 294.84L407.25 292.94A133.19 133.19 0 0 1 405.45 302.58ZM342.39 288.42A68.55 68.55 0 0 0 343.31 283.46L330.52 281.56A55.63 55.63 0 0 1 329.78 285.59ZM420.03 294.84A146.12 146.12 0 0 0 421.22 284.15L408.33 283.20A133.19 133.19 0 0 1 407.25 292.94ZM343.31 283.46A68.55 68.55 0 0 0 343.87 278.44L330.98 277.49A55.63 55.63 0 0 1 330.52 281.56ZM343.87 278.44A68.55 68.55 0 0 0 344.05 273.40L331.13 273.40A55.63 55.63 0 0 1 330.98 277.49Z"/>
<path fill="#e5521f" d="M234.99 93.00A184.90 184.90 0 0 0 221.83 96.47L225.58 108.84A171.97 171.97 0 0 1 237.82 105.61ZM201.97 117.94A171.97 171.97 0 0 0 190.74 123.77L197.11 135.02A159.04 159.04 0 0 1 207.50 129.63ZM169.70 137.83A171.97 171.97 0 0 0 160.01 145.98L168.69 155.56A159.04 159.04 0 0 1 177.65 148.02ZM150.95 154.82A171.97 171.97 0 0 0 142.57 164.30L152.56 172.50A159.04 159.04 0 0 1 160.31 163.73ZM134.90 174.38A171.97 171.97 0 0 0 128.00 184.99L139.08 191.64A159.04 159.04 0 0 1 145.47 181.82ZM96.14 228.47A184.90 184.90 0 0 0 93.33 241.79L106.06 244.00A171.97 171.97 0 0 1 108.68 231.61ZM108.68 231.61A171.97 171.97 0 0 0 106.06 244.00L118.80 246.21A159.04 159.04 0 0 1 121.22 234.76ZM135.49 394.17A184.90 184.90 0 0 0 144.76 404.14L153.90 395.00A171.97 171.97 0 0 1 145.28 385.73ZM173.06 411.53A171.97 171.97 0 0 0 183.50 418.69L190.41 407.77A159.04 159.04 0 0 1 180.76 401.14ZM176.58 429.61A184.90 184.90 0 0 0 188.34 436.46L194.43 425.06A171.97 171.97 0 0 1 183.50 418.69ZM226.19 451.60A184.90 184.90 0 0 0 239.43 454.74L241.95 442.06A171.97 171.97 0 0 1 229.63 439.14ZM307.11 455.57A184.90 184.90 0 0 0 320.43 452.76L317.29 440.22A171.97 171.97 0 0 1 304.90 442.84ZM293.85 379.15A107.33 107.33 0 0 0 301.58 377.52L298.44 364.98A94.41 94.41 0 0 1 291.64 366.42ZM320.43 452.76A184.90 184.90 0 0 0 333.50 448.96L329.44 436.69A171.97 171.97 0 0 1 317.29 440.22ZM317.29 440.22A171.97 171.97 0 0 0 329.44 436.69L325.39 424.42A159.04 159.04 0 0 1 314.14 427.68ZM341.31 432.28A171.97 171.97 0 0 0 352.82 427.01L347.01 415.46A159.04 159.04 0 0 1 336.36 420.34ZM352.82 427.01A171.97 171.97 0 0 0 363.91 420.90L357.26 409.82A159.04 159.04 0 0 1 347.01 415.46ZM455.90 313.91A184.90 184.90 0 0 0 458.39 300.53L445.61 298.63A171.97 171.97 0 0 1 443.29 311.08Z"/>
<path fill="#f88013" d="M244.34 170.69A107.33 107.33 0 0 0 236.87 173.26L241.52 185.32A94.41 94.41 0 0 1 248.09 183.06ZM190.74 123.77A171.97 171.97 0 0 0 179.96 130.41L187.14 141.16A159.04 159.04 0 0 1 197.11 135.02ZM216.49 217.22A81.48 81.48 0 0 0 212.51 221.71L222.51 229.91A68.55 68.55 0 0 1 225.85 226.13ZM121.89 196.08A171.97 171.97 0 0 0 116.62 207.59L128.56 212.54A159.04 159.04 0 0 1 133.44 201.89ZM99.94 215.40A184.90 184.90 0 0 0 96.14 228.47L108.68 231.61A171.97 171.97 0 0 1 112.21 219.46ZM93.33 241.79A184.90 184.90 0 0 0 91.49 255.28L104.36 256.54A171.97 171.97 0 0 1 106.06 244.00ZM91.49 255.28A184.90 184.90 0 0 0 90.66 268.86L103.58 269.18A171.97 171.97 0 0 1 104.36 256.54ZM104.36 256.54A171.97 171.97 0 0 0 103.58 269.18L116.51 269.50A159.04 159.04 0 0 1 117.22 257.81ZM90.66 268.86A184.90 184.90 0 0 0 90.83 282.47L103.74 281.84A171.97 171.97 0 0 1 103.58 269.18ZM168.20 270.77A107.33 107.33 0 0 0 168.29 278.67L181.21 278.03A94.41 94.41 0 0 1 181.12 271.08ZM103.74 281.84A171.97 171.97 0 0 0 104.82 294.45L117.65 292.87A159.04 159.04 0 0 1 116.65 281.20ZM168.29 278.67A107.33 107.33 0 0 0 168.97 286.54L181.80 284.96A94.41 94.41 0 0 1 181.21 278.03ZM104.82 294.45A171.97 171.97 0 0 0 106.84 306.95L119.51 304.43A159.04 159.04 0 0 1 117.65 292.87ZM94.16 309.47A184.90 184.90 0 0 0 97.30 322.71L109.76 319.27A171.97 171.97 0 0 1 106.84 306.95ZM118.28 343.09A171.97 171.97 0 0 0 123.84 354.47L135.24 348.37A159.04 159.04 0 0 1 130.10 337.85ZM123.84 354.47A171.97 171.97 0 0 0 130.21 365.40L141.13 358.49A159.04 159.04 0 0 1 135.24 348.37ZM145.28 385.73A171.97 171.97 0 0 0 153.90 395.00L163.04 385.86A159.04 159.04 0 0 1 155.07 377.28ZM199.60 349.30A107.33 107.33 0 0 0 205.39 354.67L213.84 344.89A94.41 94.41 0 0 1 208.74 340.16ZM154.73 413.41A184.90 184.90 0 0 0 165.36 421.91L173.06 411.53A171.97 171.97 0 0 1 163.17 403.62ZM165.36 421.91A184.90 184.90 0 0 0 176.58 429.61L183.50 418.69A171.97 171.97 0 0 1 173.06 411.53ZM194.43 425.06A171.97 171.97 0 0 0 205.81 430.62L211.05 418.80A159.04 159.04 0 0 1 200.53 413.66ZM213.21 447.49A184.90 184.90 0 0 0 226.19 451.60L229.63 439.14A171.97 171.97 0 0 1 217.57 435.32ZM217.57 435.32A171.97 171.97 0 0 0 229.63 439.14L233.08 426.68A159.04 159.04 0 0 1 221.92 423.15ZM253.77 351.93A81.48 81.48 0 0 0 259.60 353.32L262.13 340.64A68.55 68.55 0 0 1 257.22 339.47ZM241.95 442.06A171.97 171.97 0 0 0 254.45 444.08L256.03 431.25A159.04 159.04 0 0 1 244.47 429.39ZM254.56 378.67A107.33 107.33 0 0 0 262.36 379.93L263.94 367.10A94.41 94.41 0 0 1 257.08 365.99ZM279.72 445.32A171.97 171.97 0 0 0 292.36 444.54L291.09 431.68A159.04 159.04 0 0 1 279.40 432.39ZM293.62 457.41A184.90 184.90 0 0 0 307.11 455.57L304.90 442.84A171.97 171.97 0 0 1 292.36 444.54ZM292.36 444.54A171.97 171.97 0 0 0 304.90 442.84L302.69 430.10A159.04 159.04 0 0 1 291.09 431.68ZM301.58 377.52A107.33 107.33 0 0 0 309.17 375.32L305.11 363.04A94.41 94.41 0 0 1 298.44 364.98ZM329.44 436.69A171.97 171.97 0 0 0 341.31 432.28L336.36 420.34A159.04 159.04 0 0 1 325.39 424.42ZM358.63 438.55A184.90 184.90 0 0 0 370.56 431.99L363.91 420.90A171.97 171.97 0 0 1 352.82 427.01ZM363.91 420.90A171.97 171.97 0 0 0 374.52 414.00L367.08 403.43A159.04 159.04 0 0 1 357.26 409.82ZM384.60 406.33A171.97 171.97 0 0 0 394.08 397.95L385.17 388.59A159.04 159.04 0 0 1 376.40 396.34ZM394.08 397.95A171.97 171.97 0 0 0 402.92 388.89L393.34 380.21A159.04 159.04 0 0 1 385.17 388.59ZM411.07 379.20A171.97 171.97 0 0 0 418.49 368.94L407.74 361.76A159.04 159.04 0 0 1 400.88 371.25ZM436.38 364.53A184.90 184.90 0 0 0 442.64 352.45L430.96 346.93A171.97 171.97 0 0 1 425.13 358.16ZM442.64 352.45A184.90 184.90 0 0 0 448.01 339.94L435.95 335.29A171.97 171.97 0 0 1 430.96 346.93ZM430.96 346.93A171.97 171.97 0 0 0 435.95 335.29L423.89 330.64A159.04 159.04 0 0 1 419.27 341.40ZM375.64 312.03A107.33 107.33 0 0 0 378.21 304.56L365.84 300.81A94.41 94.41 0 0 1 363.58 307.38ZM443.29 311.08A171.97 171.97 0 0 0 445.61 298.63L432.82 296.74A159.04 159.04 0 0 1 430.68 308.25ZM445.61 298.63A171.97 171.97 0 0 0 447.00 286.05L434.11 285.10A159.04 159.04 0 0 1 432.82 296.74Z"/>
<path fill="#f06c1c" d="M179.96 130.41A171.97 171.97 0 0 0 169.70 137.83L177.65 148.02A159.04 159.04 0 0 1 187.14 141.16ZM124.33 166.94A184.90 184.90 0 0 0 116.91 178.34L128.00 184.99A171.97 171.97 0 0 1 134.90 174.38ZM106.84 306.95A171.97 171.97 0 0 0 109.76 319.27L122.22 315.82A159.04 159.04 0 0 1 119.51 304.43ZM304.90 442.84A171.97 171.97 0 0 0 317.29 440.22L314.14 427.68A159.04 159.04 0 0 1 302.69 430.10ZM447.00 286.05A171.97 171.97 0 0 0 447.47 273.40L434.54 273.40A159.04 159.04 0 0 1 434.11 285.10Z"/>
<path fill="#d42a30" d="M161.75 127.64A184.90 184.90 0 0 0 151.33 136.40L160.01 145.98A171.97 171.97 0 0 1 169.70 137.83ZM104.68 202.64A184.90 184.90 0 0 0 99.94 215.40L112.21 219.46A171.97 171.97 0 0 1 116.62 207.59ZM374.52 414.00A171.97 171.97 0 0 0 384.60 406.33L376.40 396.34A159.04 159.04 0 0 1 367.08 403.43Z"/>
</g>
<g font-family='"Liberation Sans", Arial, Helvetica, sans-serif' font-size="10.8" fill="#111" stroke="#111" stroke-width="0.22">
<text x="267.69" y="61.44" text-anchor="end" dominant-baseline="central" transform="rotate(87.89 267.69 61.44)">MsNF-YA11</text>
<text x="252.12" y="62.59" text-anchor="end" dominant-baseline="central" transform="rotate(83.67 252.12 62.59)">MsNF-YA10</text>
<text x="236.68" y="64.88" text-anchor="end" dominant-baseline="central" transform="rotate(79.45 236.68 64.88)">MsNF-YA9</text>
<text x="221.44" y="68.30" text-anchor="end" dominant-baseline="central" transform="rotate(75.23 221.44 68.30)">MsNF-YA2</text>
<text x="206.50" y="72.84" text-anchor="end" dominant-baseline="central" transform="rotate(71.02 206.50 72.84)">MsNF-YA3</text>
<text x="191.93" y="78.46" text-anchor="end" dominant-baseline="central" transform="rotate(66.80 191.93 78.46)">MsNF-YA8</text>
<text x="177.82" y="85.13" text-anchor="end" dominant-baseline="central" transform="rotate(62.58 177.82 85.13)">MsNF-YA4</text>
<text x="164.23" y="92.83" text-anchor="end" dominant-baseline="central" transform="rotate(58.36 164.23 92.83)">MsNF-YA7</text>
<text x="151.25" y="101.50" text-anchor="end" dominant-baseline="central" transform="rotate(54.14 151.25 101.50)">MsNF-YA1</text>
<text x="138.94" y="111.11" text-anchor="end" dominant-baseline="central" transform="rotate(49.92 138.94 111.11)">MsNF-YA6</text>
<text x="127.37" y="121.59" text-anchor="end" dominant-baseline="central" transform="rotate(45.70 127.37 121.59)">MsNF-YA5</text>
<text x="116.61" y="132.90" text-anchor="end" dominant-baseline="central" transform="rotate(41.48 116.61 132.90)">MsNF-YB17</text>
<text x="106.70" y="144.97" text-anchor="end" dominant-baseline="central" transform="rotate(37.27 106.70 144.97)">MsNF-YB23</text>
<text x="97.71" y="157.74" text-anchor="end" dominant-baseline="central" transform="rotate(33.05 97.71 157.74)">MsNF-YB10</text>
<text x="89.69" y="171.13" text-anchor="end" dominant-baseline="central" transform="rotate(28.83 89.69 171.13)">MsNF-YB26</text>
<text x="82.67" y="185.08" text-anchor="end" dominant-baseline="central" transform="rotate(24.61 82.67 185.08)">MsNF-YB27</text>
<text x="76.69" y="199.50" text-anchor="end" dominant-baseline="central" transform="rotate(20.39 76.69 199.50)">MsNF-YB16</text>
<text x="71.79" y="214.33" text-anchor="end" dominant-baseline="central" transform="rotate(16.17 71.79 214.33)">MsNF-YB20</text>
<text x="68.00" y="229.47" text-anchor="end" dominant-baseline="central" transform="rotate(11.95 68.00 229.47)">MsNF-YB29</text>
<text x="65.33" y="244.86" text-anchor="end" dominant-baseline="central" transform="rotate(7.73 65.33 244.86)">MsNF-YB19</text>
<text x="63.80" y="260.39" text-anchor="end" dominant-baseline="central" transform="rotate(3.52 63.80 260.39)">MsNF-YB11</text>
<text x="63.42" y="276.00" text-anchor="end" dominant-baseline="central" transform="rotate(-0.70 63.42 276.00)">MsNF-YB12</text>
<text x="64.18" y="291.60" text-anchor="end" dominant-baseline="central" transform="rotate(-4.92 64.18 291.60)">MsNF-YB33</text>
<text x="66.09" y="307.09" text-anchor="end" dominant-baseline="central" transform="rotate(-9.14 66.09 307.09)">MsNF-YB15</text>
<text x="69.14" y="322.41" text-anchor="end" dominant-baseline="central" transform="rotate(-13.36 69.14 322.41)">MsNF-YB31</text>
<text x="73.30" y="337.46" text-anchor="end" dominant-baseline="central" transform="rotate(-17.58 73.30 337.46)">MsNF-YB9</text>
<text x="78.56" y="352.16" text-anchor="end" dominant-baseline="central" transform="rotate(-21.80 78.56 352.16)">MsNF-YB28</text>
<text x="84.89" y="366.43" text-anchor="end" dominant-baseline="central" transform="rotate(-26.02 84.89 366.43)">MsNF-YB18</text>
<text x="92.25" y="380.20" text-anchor="end" dominant-baseline="central" transform="rotate(-30.23 92.25 380.20)">MsNF-YB6</text>
<text x="100.60" y="393.39" text-anchor="end" dominant-baseline="central" transform="rotate(-34.45 100.60 393.39)">MsNF-YB8</text>
<text x="109.91" y="405.93" text-anchor="end" dominant-baseline="central" transform="rotate(-38.67 109.91 405.93)">MsNF-YB7</text>
<text x="120.10" y="417.76" text-anchor="end" dominant-baseline="central" transform="rotate(-42.89 120.10 417.76)">MsNF-YB5</text>
<text x="131.14" y="428.80" text-anchor="end" dominant-baseline="central" transform="rotate(-47.11 131.14 428.80)">MsNF-YB1</text>
<text x="142.97" y="438.99" text-anchor="end" dominant-baseline="central" transform="rotate(-51.33 142.97 438.99)">MsNF-YB13</text>
<text x="155.51" y="448.30" text-anchor="end" dominant-baseline="central" transform="rotate(-55.55 155.51 448.30)">MsNF-YB2</text>
<text x="168.70" y="456.65" text-anchor="end" dominant-baseline="central" transform="rotate(-59.77 168.70 456.65)">MsNF-YB3</text>
<text x="182.47" y="464.01" text-anchor="end" dominant-baseline="central" transform="rotate(-63.98 182.47 464.01)">MsNF-YB4</text>
<text x="196.74" y="470.34" text-anchor="end" dominant-baseline="central" transform="rotate(-68.20 196.74 470.34)">MsNF-YB24</text>
<text x="211.44" y="475.60" text-anchor="end" dominant-baseline="central" transform="rotate(-72.42 211.44 475.60)">MsNF-YB22</text>
<text x="226.49" y="479.76" text-anchor="end" dominant-baseline="central" transform="rotate(-76.64 226.49 479.76)">MsNF-YB25</text>
<text x="241.81" y="482.81" text-anchor="end" dominant-baseline="central" transform="rotate(-80.86 241.81 482.81)">MsNF-YB21</text>
<text x="257.30" y="484.72" text-anchor="end" dominant-baseline="central" transform="rotate(-85.08 257.30 484.72)">MsNF-YB14</text>
<text x="272.90" y="485.48" text-anchor="end" dominant-baseline="central" transform="rotate(-89.30 272.90 485.48)">MsNF-YB30</text>
<text x="288.60" y="486.60" text-anchor="start" dominant-baseline="central" transform="rotate(-273.52 288.60 486.60)">MsNF-YB32</text>
<text x="304.25" y="485.06" text-anchor="start" dominant-baseline="central" transform="rotate(-277.73 304.25 485.06)">MsNF-YC13</text>
<text x="319.74" y="482.37" text-anchor="start" dominant-baseline="central" transform="rotate(-281.95 319.74 482.37)">MsNF-YC12</text>
<text x="334.99" y="478.55" text-anchor="start" dominant-baseline="central" transform="rotate(-286.17 334.99 478.55)">MsNF-YC19</text>
<text x="349.92" y="473.62" text-anchor="start" dominant-baseline="central" transform="rotate(-290.39 349.92 473.62)">MsNF-YC11</text>
<text x="364.45" y="467.60" text-anchor="start" dominant-baseline="central" transform="rotate(-294.61 364.45 467.60)">MsNF-YC20</text>
<text x="378.49" y="460.53" text-anchor="start" dominant-baseline="central" transform="rotate(-298.83 378.49 460.53)">MsNF-YC8</text>
<text x="391.98" y="452.44" text-anchor="start" dominant-baseline="central" transform="rotate(-303.05 391.98 452.44)">MsNF-YC9</text>
<text x="404.84" y="443.39" text-anchor="start" dominant-baseline="central" transform="rotate(-307.27 404.84 443.39)">MsNF-YC4</text>
<text x="416.99" y="433.42" text-anchor="start" dominant-baseline="central" transform="rotate(-311.48 416.99 433.42)">MsNF-YC7</text>
<text x="428.38" y="422.57" text-anchor="start" dominant-baseline="central" transform="rotate(-315.70 428.38 422.57)">MsNF-YC6</text>
<text x="438.94" y="410.92" text-anchor="start" dominant-baseline="central" transform="rotate(-319.92 438.94 410.92)">MsNF-YC5</text>
<text x="448.61" y="398.53" text-anchor="start" dominant-baseline="central" transform="rotate(-324.14 448.61 398.53)">MsNF-YC10</text>
<text x="457.35" y="385.45" text-anchor="start" dominant-baseline="central" transform="rotate(-328.36 457.35 385.45)">MsNF-YC3</text>
<text x="465.10" y="371.77" text-anchor="start" dominant-baseline="central" transform="rotate(-332.58 465.10 371.77)">MsNF-YC1</text>
<text x="471.82" y="357.56" text-anchor="start" dominant-baseline="central" transform="rotate(-336.80 471.82 357.56)">MsNF-YC2</text>
<text x="477.48" y="342.89" text-anchor="start" dominant-baseline="central" transform="rotate(-341.02 477.48 342.89)">MsNF-YC16</text>
<text x="482.05" y="327.84" text-anchor="start" dominant-baseline="central" transform="rotate(-345.23 482.05 327.84)">MsNF-YC15</text>
<text x="485.49" y="312.50" text-anchor="start" dominant-baseline="central" transform="rotate(-349.45 485.49 312.50)">MsNF-YC14</text>
<text x="487.80" y="296.94" text-anchor="start" dominant-baseline="central" transform="rotate(-353.67 487.80 296.94)">MsNF-YC17</text>
<text x="488.96" y="281.26" text-anchor="start" dominant-baseline="central" transform="rotate(-357.89 488.96 281.26)">MsNF-YC18</text>
</g>
<g font-family='"Liberation Sans", Arial, Helvetica, sans-serif' font-size="10.8" fill="#111" stroke="#111" stroke-width="0.22">
<text x="277.6" y="69.11" dominant-baseline="central">TC-rich repeats</text>
<text x="277.6" y="82.04" dominant-baseline="central">DRE</text>
<text x="277.6" y="94.97" dominant-baseline="central">MYC</text>
<text x="277.6" y="107.89" dominant-baseline="central">MYB</text>
<text x="277.6" y="120.82" dominant-baseline="central">LTR</text>
<text x="277.6" y="133.75" dominant-baseline="central">MBS</text>
<text x="277.6" y="146.67" dominant-baseline="central">CCAAT-box</text>
<text x="277.6" y="159.60" dominant-baseline="central">AT-rich element</text>
<text x="277.6" y="172.53" dominant-baseline="central">ARE</text>
<text x="277.6" y="185.46" dominant-baseline="central">GC-motif</text>
<text x="277.6" y="198.38" dominant-baseline="central">as-1</text>
<text x="277.6" y="211.31" dominant-baseline="central">WUN-motif</text>
<text x="277.6" y="224.24" dominant-baseline="central">W box</text>
</g>
<defs><linearGradient id="cb" x1="0" x2="1" y1="0" y2="0">
<stop offset="0.000" stop-color="#a3cce2"/>
<stop offset="0.167" stop-color="#c4c6bc"/>
<stop offset="0.333" stop-color="#e2c196"/>
<stop offset="0.500" stop-color="#fbb266"/>
<stop offset="0.667" stop-color="#f1873f"/>
<stop offset="0.833" stop-color="#e3522e"/>
<stop offset="1.000" stop-color="#cf1d2a"/>
</linearGradient></defs>
<rect x="319.80" y="259.6" width="165.40" height="10" fill="url(#cb)"/>
<line x1="319.20" y1="258.7" x2="485.80" y2="258.7" stroke="#000" stroke-width="1.5"/>
<g font-family='"Liberation Sans", Arial, Helvetica, sans-serif' font-size="10.2" fill="#111" stroke="#111" stroke-width="0.22" text-anchor="middle">
<line x1="319.80" y1="255" x2="319.80" y2="259" stroke="#000" stroke-width="1.3"/>
<text x="319.80" y="250.6">0</text>
<line x1="347.37" y1="255" x2="347.37" y2="259" stroke="#000" stroke-width="1.3"/>
<text x="347.37" y="250.6">2</text>
<line x1="374.93" y1="255" x2="374.93" y2="259" stroke="#000" stroke-width="1.3"/>
<text x="374.93" y="250.6">4</text>
<line x1="402.50" y1="255" x2="402.50" y2="259" stroke="#000" stroke-width="1.3"/>
<text x="402.50" y="250.6">6</text>
<line x1="430.07" y1="255" x2="430.07" y2="259" stroke="#000" stroke-width="1.3"/>
<text x="430.07" y="250.6">8</text>
<line x1="457.63" y1="255" x2="457.63" y2="259" stroke="#000" stroke-width="1.3"/>
<text x="457.63" y="250.6">10</text>
<line x1="485.20" y1="255" x2="485.20" y2="259" stroke="#000" stroke-width="1.3"/>
<text x="485.20" y="250.6">12</text>
</g>
<g fill="none" stroke-width="1.15" stroke-linecap="butt">
<path stroke="#45abe6" d="M274.81 254.63L273.92 230.43M273.43 254.73L270.76 230.66M274.81 254.63A18.78 18.78 0 0 0 273.43 254.73M270.27 253.56L264.54 231.82M268.83 254.00L261.51 232.74M270.27 253.56A20.51 20.51 0 0 0 268.83 254.00M272.06 254.93L267.63 231.13M270.05 255.42L269.55 253.77M272.06 254.93A18.78 18.78 0 0 0 270.05 255.42M274.25 256.39L274.12 254.67M271.46 256.83L271.05 255.15M274.25 256.39A17.06 17.06 0 0 0 271.46 256.83M268.10 256.13L258.56 233.88M266.85 256.73L255.70 235.23M268.10 256.13A18.78 18.78 0 0 0 266.85 256.73M261.18 256.38L247.82 240.50M259.97 257.48L245.47 242.62M261.18 256.38A22.24 22.24 0 0 0 259.97 257.48M263.48 256.77L250.31 238.55M261.72 258.20L260.56 256.92M263.48 256.77A20.51 20.51 0 0 0 261.72 258.20M265.65 257.41L252.94 236.79M263.67 258.81L262.58 257.46M265.65 257.41A18.78 18.78 0 0 0 263.67 258.81M268.21 257.98L267.47 256.42M265.64 259.48L264.64 258.07M268.21 257.98A17.06 17.06 0 0 0 265.64 259.48M273.11 258.26L272.84 256.55M267.76 260.17L266.89 258.68M273.11 258.26A15.33 15.33 0 0 0 267.76 260.17M267.76 260.17A15.33 15.33 0 0 0 266.28 261.16M267.32 262.54L266.28 261.16"/>
<path stroke="#45ab3c" d="M241.33 251.17L239.46 249.95M239.79 253.75L237.83 252.67M241.33 251.17A40.76 40.76 0 0 0 239.79 253.75M245.03 250.21L241.28 247.36M242.66 253.71L240.54 252.45M245.03 250.21A38.29 38.29 0 0 0 242.66 253.71M248.67 249.67L243.29 244.92M245.84 253.32L243.79 251.93M248.67 249.67A35.82 35.82 0 0 0 245.84 253.32M239.61 260.06L235.19 258.42M238.72 262.74L234.20 261.42M239.61 260.06A38.29 38.29 0 0 0 238.72 262.74M242.93 258.48L236.41 255.49M241.49 262.16L239.14 261.39M242.93 258.48A35.82 35.82 0 0 0 241.49 262.16M249.14 252.96L247.19 251.45M244.46 261.21L242.16 260.30M249.14 252.96A33.35 33.35 0 0 0 244.46 261.21M240.00 268.58L232.89 267.61M239.75 271.20L232.58 270.76M240.00 268.58A35.82 35.82 0 0 0 239.75 271.20M242.87 266.49L233.43 264.49M242.31 270.13L239.85 269.89M242.87 266.49A33.35 33.35 0 0 0 242.31 270.13M248.65 258.14L246.51 256.92M244.98 268.68L242.54 268.30M248.65 258.14A30.88 30.88 0 0 0 244.98 268.68M242.15 273.81L232.50 273.93M242.27 276.26L232.66 277.09M242.15 273.81A33.35 33.35 0 0 0 242.27 276.26M242.57 278.70L233.05 280.23M243.05 281.11L233.66 283.34M242.57 278.70A33.35 33.35 0 0 0 243.05 281.11M244.65 274.92L242.19 275.04M245.21 279.43L242.79 279.91M244.65 274.92A30.88 30.88 0 0 0 245.21 279.43M248.67 264.05L246.34 263.24M247.30 276.88L244.85 277.18M248.67 264.05A28.41 28.41 0 0 0 247.30 276.88M245.53 288.03L236.86 292.26M246.68 290.19L238.35 295.05M245.53 288.03A33.35 33.35 0 0 0 246.68 290.19M246.82 284.87L235.57 289.37M248.26 287.96L246.09 289.12M246.82 284.87A30.88 30.88 0 0 0 248.26 287.96M248.41 281.98L234.51 286.39M249.74 285.39L247.50 286.43M248.41 281.98A28.41 28.41 0 0 0 249.74 285.39M249.70 270.65L247.25 270.39M251.32 282.81L249.02 283.71M249.70 270.65A25.95 25.95 0 0 0 251.32 282.81M252.07 289.47L240.04 297.73M253.32 291.15L241.93 300.27M252.07 289.47A28.41 28.41 0 0 0 253.32 291.15M254.48 296.03L246.23 304.90M256.20 297.51L248.63 306.97M254.48 296.03A30.88 30.88 0 0 0 256.20 297.51M254.68 292.74L244.00 302.67M256.94 294.92L255.33 296.79M254.68 292.74A28.41 28.41 0 0 0 256.94 294.92M254.66 288.86L252.68 290.33M257.49 292.08L255.78 293.86M254.66 288.86A25.95 25.95 0 0 0 257.49 292.08M252.23 276.50L249.78 276.83M257.87 288.90L256.01 290.53M252.23 276.50A23.48 23.48 0 0 0 257.87 288.90M262.44 295.82L253.85 310.55M264.12 296.72L256.64 312.04M262.44 295.82A25.95 25.95 0 0 0 264.12 296.72M262.22 292.76L251.17 308.86M264.43 294.10L263.27 296.28M262.22 292.76A23.48 23.48 0 0 0 264.43 294.10M256.38 282.09L254.13 283.12M264.59 291.35L263.31 293.46M256.38 282.09A21.01 21.01 0 0 0 264.59 291.35M266.78 295.20L259.53 313.33M268.41 295.78L262.51 314.39M266.78 295.20A23.48 23.48 0 0 0 268.41 295.78M268.42 293.18L267.59 295.50M270.65 293.84L265.56 315.24M268.42 293.18A21.01 21.01 0 0 0 270.65 293.84M261.63 285.70L259.79 287.34M270.23 291.17L269.53 293.54M261.63 285.70A18.54 18.54 0 0 0 270.23 291.17M272.16 294.14L268.67 315.85M273.70 294.33L271.81 316.24M272.16 294.14A21.01 21.01 0 0 0 273.70 294.33M275.24 294.41L274.97 316.40M276.79 294.37L278.14 316.32M275.24 294.41A21.01 21.01 0 0 0 276.79 294.37M273.23 291.80L272.93 294.25M275.95 291.93L276.02 294.40M273.23 291.80A18.54 18.54 0 0 0 275.95 291.93M266.87 286.96L265.55 289.04M274.71 289.45L274.59 291.92M266.87 286.96A16.07 16.07 0 0 0 274.71 289.45M272.44 286.65L271.89 289.06"/>
<path stroke="#eea324" d="M278.23 293.48L281.29 316.01M279.70 293.23L284.41 315.47M278.23 293.48A20.27 20.27 0 0 0 279.70 293.23M283.34 294.48L290.48 313.71M284.86 293.85L293.41 312.49M283.34 294.48A22.49 22.49 0 0 0 284.86 293.85M281.14 292.86L287.48 314.70M283.26 292.12L284.11 294.18M281.14 292.86A20.27 20.27 0 0 0 283.26 292.12M278.58 291.18L278.96 293.37M281.47 290.43L282.21 292.52M278.58 291.18A18.04 18.04 0 0 0 281.47 290.43M286.34 293.10L296.23 311.07M287.76 292.25L298.95 309.44M286.34 293.10A22.49 22.49 0 0 0 287.76 292.25M294.78 292.21L306.28 303.43M296.11 290.74L308.40 301.08M294.78 292.21A26.93 26.93 0 0 0 296.11 290.74M291.87 291.91L303.98 305.61M293.81 289.99L295.46 291.49M291.87 291.91A24.71 24.71 0 0 0 293.81 289.99M289.12 291.30L301.54 307.62M291.30 289.40L292.87 290.98M289.12 291.30A22.49 22.49 0 0 0 291.30 289.40M285.92 290.78L287.06 292.69M288.78 288.71L290.24 290.38M285.92 290.78A20.27 20.27 0 0 0 288.78 288.71M296.54 286.36L312.11 295.96M297.43 284.78L313.67 293.20M296.54 286.36A24.71 24.71 0 0 0 297.43 284.78M293.73 286.57L310.35 298.59M295.07 284.48L297.00 285.58M293.73 286.57A22.49 22.49 0 0 0 295.07 284.48M298.21 283.14L315.02 290.34M298.87 281.44L316.16 287.39M298.21 283.14A24.71 24.71 0 0 0 298.87 281.44M304.48 276.61L318.24 278.14M304.64 274.47L318.47 274.98M304.48 276.61A29.15 29.15 0 0 0 304.64 274.47M301.98 278.33L317.77 281.27M302.36 275.38L304.58 275.54M301.98 278.33A26.93 26.93 0 0 0 302.36 275.38M299.39 279.70L317.08 284.36M300.01 276.58L302.21 276.86M299.39 279.70A24.71 24.71 0 0 0 300.01 276.58M296.48 281.49L298.55 282.29M297.57 277.72L299.75 278.15M296.48 281.49A22.49 22.49 0 0 0 297.57 277.72M292.56 284.35L294.43 285.55M294.97 279.01L297.11 279.63M292.56 284.35A20.27 20.27 0 0 0 294.97 279.01M286.09 288.01L287.40 289.81M291.93 280.85L293.96 281.77M286.09 288.01A18.04 18.04 0 0 0 291.93 280.85M279.49 288.71L280.05 290.86M287.76 283.40L289.48 284.81M279.49 288.71A15.82 15.82 0 0 0 287.76 283.40M281.03 285.82L281.94 287.85"/>
<path stroke="#7d7d7d" d="M267.32 262.54A13.60 13.60 0 0 0 281.03 285.82"/>
</g>
</svg></body></html>
